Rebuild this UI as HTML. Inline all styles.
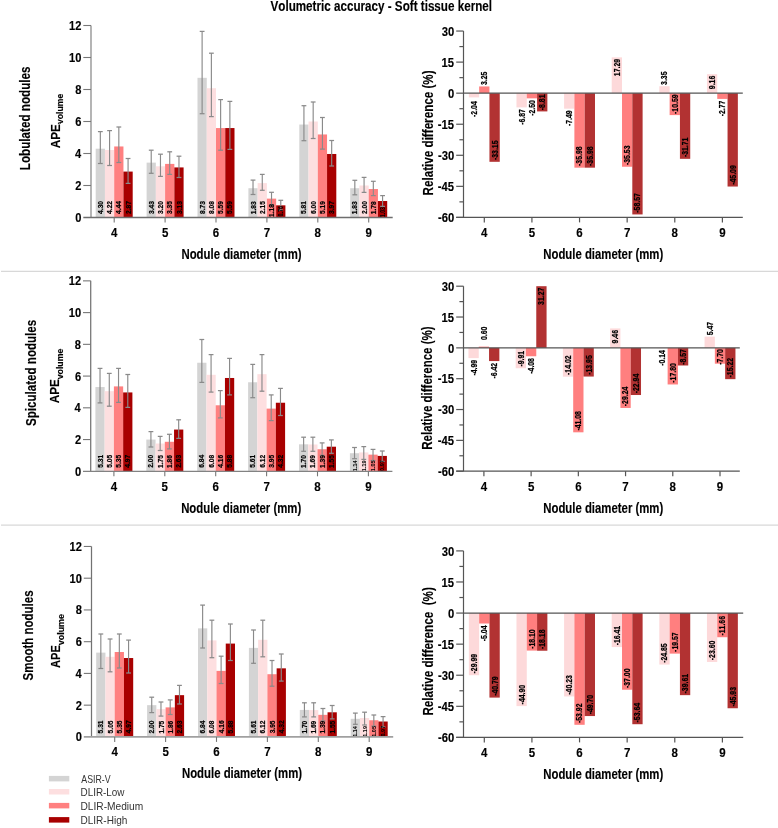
<!DOCTYPE html>
<html><head><meta charset="utf-8"><style>
html,body{margin:0;padding:0;background:#fff;}
svg{display:block;filter:blur(0.3px);}
text{font-family:"Liberation Sans",sans-serif;font-kerning:none;}
</style></head><body>
<svg width="778" height="828" viewBox="0 0 778 828">
<rect x="0" y="0" width="778" height="828" fill="#fff"/>
<text x="270.52" y="10.8" font-size="14.3" font-weight="bold" textLength="221.5" lengthAdjust="spacingAndGlyphs" fill="#000" stroke="#000" stroke-width="0.15">Volumetric accuracy - Soft tissue kernel</text>
<rect x="95.7" y="148.7" width="9.25" height="68.8" fill="#d4d4d4"/>
<rect x="104.95" y="149.98" width="9.25" height="67.52" fill="#fddfe0"/>
<rect x="114.2" y="146.46" width="9.25" height="71.04" fill="#ff8080"/>
<rect x="123.45" y="171.58" width="9.25" height="45.92" fill="#a80000"/>
<rect x="146.6" y="162.62" width="9.25" height="54.88" fill="#d4d4d4"/>
<rect x="155.85" y="166.3" width="9.25" height="51.2" fill="#fddfe0"/>
<rect x="165.1" y="163.9" width="9.25" height="53.6" fill="#ff8080"/>
<rect x="174.35" y="167.42" width="9.25" height="50.08" fill="#a80000"/>
<rect x="197.5" y="77.82" width="9.25" height="139.68" fill="#d4d4d4"/>
<rect x="206.75" y="88.22" width="9.25" height="129.28" fill="#fddfe0"/>
<rect x="216" y="128.06" width="9.25" height="89.44" fill="#ff8080"/>
<rect x="225.25" y="128.06" width="9.25" height="89.44" fill="#a80000"/>
<rect x="248.4" y="188.22" width="9.25" height="29.28" fill="#d4d4d4"/>
<rect x="257.65" y="183.1" width="9.25" height="34.4" fill="#fddfe0"/>
<rect x="266.9" y="198.62" width="9.25" height="18.88" fill="#ff8080"/>
<rect x="276.15" y="205.34" width="9.25" height="12.16" fill="#a80000"/>
<rect x="299.3" y="124.54" width="9.25" height="92.96" fill="#d4d4d4"/>
<rect x="308.55" y="121.5" width="9.25" height="96" fill="#fddfe0"/>
<rect x="317.8" y="134.46" width="9.25" height="83.04" fill="#ff8080"/>
<rect x="327.05" y="153.98" width="9.25" height="63.52" fill="#a80000"/>
<rect x="350.2" y="188.22" width="9.25" height="29.28" fill="#d4d4d4"/>
<rect x="359.45" y="185.5" width="9.25" height="32" fill="#fddfe0"/>
<rect x="368.7" y="189.02" width="9.25" height="28.48" fill="#ff8080"/>
<rect x="377.95" y="201.02" width="9.25" height="16.48" fill="#a80000"/>
<line x1="100.33" y1="131.6" x2="100.33" y2="163.5" stroke="#8a8a8a" stroke-width="1.15"/>
<line x1="97.92" y1="131.6" x2="102.73" y2="131.6" stroke="#8a8a8a" stroke-width="1.25"/>
<line x1="97.92" y1="163.5" x2="102.73" y2="163.5" stroke="#8a8a8a" stroke-width="1.25"/>
<line x1="109.58" y1="130.6" x2="109.58" y2="165.5" stroke="#8a8a8a" stroke-width="1.15"/>
<line x1="107.17" y1="130.6" x2="111.98" y2="130.6" stroke="#8a8a8a" stroke-width="1.25"/>
<line x1="107.17" y1="165.5" x2="111.98" y2="165.5" stroke="#8a8a8a" stroke-width="1.25"/>
<line x1="118.83" y1="127" x2="118.83" y2="162.5" stroke="#8a8a8a" stroke-width="1.15"/>
<line x1="116.42" y1="127" x2="121.23" y2="127" stroke="#8a8a8a" stroke-width="1.25"/>
<line x1="116.42" y1="162.5" x2="121.23" y2="162.5" stroke="#8a8a8a" stroke-width="1.25"/>
<line x1="128.07" y1="158.5" x2="128.07" y2="183.4" stroke="#8a8a8a" stroke-width="1.15"/>
<line x1="125.67" y1="158.5" x2="130.47" y2="158.5" stroke="#8a8a8a" stroke-width="1.25"/>
<line x1="125.67" y1="183.4" x2="130.47" y2="183.4" stroke="#8a8a8a" stroke-width="1.25"/>
<line x1="151.22" y1="150.2" x2="151.22" y2="173.3" stroke="#8a8a8a" stroke-width="1.15"/>
<line x1="148.82" y1="150.2" x2="153.62" y2="150.2" stroke="#8a8a8a" stroke-width="1.25"/>
<line x1="148.82" y1="173.3" x2="153.62" y2="173.3" stroke="#8a8a8a" stroke-width="1.25"/>
<line x1="160.47" y1="154.2" x2="160.47" y2="176.4" stroke="#8a8a8a" stroke-width="1.15"/>
<line x1="158.07" y1="154.2" x2="162.88" y2="154.2" stroke="#8a8a8a" stroke-width="1.25"/>
<line x1="158.07" y1="176.4" x2="162.88" y2="176.4" stroke="#8a8a8a" stroke-width="1.25"/>
<line x1="169.72" y1="151.8" x2="169.72" y2="174.4" stroke="#8a8a8a" stroke-width="1.15"/>
<line x1="167.32" y1="151.8" x2="172.12" y2="151.8" stroke="#8a8a8a" stroke-width="1.25"/>
<line x1="167.32" y1="174.4" x2="172.12" y2="174.4" stroke="#8a8a8a" stroke-width="1.25"/>
<line x1="178.97" y1="156.2" x2="178.97" y2="177.5" stroke="#8a8a8a" stroke-width="1.15"/>
<line x1="176.57" y1="156.2" x2="181.38" y2="156.2" stroke="#8a8a8a" stroke-width="1.25"/>
<line x1="176.57" y1="177.5" x2="181.38" y2="177.5" stroke="#8a8a8a" stroke-width="1.25"/>
<line x1="202.12" y1="31.4" x2="202.12" y2="113.7" stroke="#8a8a8a" stroke-width="1.15"/>
<line x1="199.72" y1="31.4" x2="204.53" y2="31.4" stroke="#8a8a8a" stroke-width="1.25"/>
<line x1="199.72" y1="113.7" x2="204.53" y2="113.7" stroke="#8a8a8a" stroke-width="1.25"/>
<line x1="211.38" y1="53.2" x2="211.38" y2="116.6" stroke="#8a8a8a" stroke-width="1.15"/>
<line x1="208.97" y1="53.2" x2="213.78" y2="53.2" stroke="#8a8a8a" stroke-width="1.25"/>
<line x1="208.97" y1="116.6" x2="213.78" y2="116.6" stroke="#8a8a8a" stroke-width="1.25"/>
<line x1="220.62" y1="99.6" x2="220.62" y2="150.2" stroke="#8a8a8a" stroke-width="1.15"/>
<line x1="218.22" y1="99.6" x2="223.03" y2="99.6" stroke="#8a8a8a" stroke-width="1.25"/>
<line x1="218.22" y1="150.2" x2="223.03" y2="150.2" stroke="#8a8a8a" stroke-width="1.25"/>
<line x1="229.88" y1="101.4" x2="229.88" y2="149.4" stroke="#8a8a8a" stroke-width="1.15"/>
<line x1="227.47" y1="101.4" x2="232.28" y2="101.4" stroke="#8a8a8a" stroke-width="1.25"/>
<line x1="227.47" y1="149.4" x2="232.28" y2="149.4" stroke="#8a8a8a" stroke-width="1.25"/>
<line x1="253.02" y1="180.1" x2="253.02" y2="194.5" stroke="#8a8a8a" stroke-width="1.15"/>
<line x1="250.62" y1="180.1" x2="255.42" y2="180.1" stroke="#8a8a8a" stroke-width="1.25"/>
<line x1="250.62" y1="194.5" x2="255.42" y2="194.5" stroke="#8a8a8a" stroke-width="1.25"/>
<line x1="262.27" y1="174.4" x2="262.27" y2="190.3" stroke="#8a8a8a" stroke-width="1.15"/>
<line x1="259.88" y1="174.4" x2="264.67" y2="174.4" stroke="#8a8a8a" stroke-width="1.25"/>
<line x1="259.88" y1="190.3" x2="264.67" y2="190.3" stroke="#8a8a8a" stroke-width="1.25"/>
<line x1="271.52" y1="192.3" x2="271.52" y2="204.9" stroke="#8a8a8a" stroke-width="1.15"/>
<line x1="269.12" y1="192.3" x2="273.92" y2="192.3" stroke="#8a8a8a" stroke-width="1.25"/>
<line x1="269.12" y1="204.9" x2="273.92" y2="204.9" stroke="#8a8a8a" stroke-width="1.25"/>
<line x1="280.77" y1="200.3" x2="280.77" y2="210.1" stroke="#8a8a8a" stroke-width="1.15"/>
<line x1="278.38" y1="200.3" x2="283.17" y2="200.3" stroke="#8a8a8a" stroke-width="1.25"/>
<line x1="278.38" y1="210.1" x2="283.17" y2="210.1" stroke="#8a8a8a" stroke-width="1.25"/>
<line x1="303.93" y1="105.7" x2="303.93" y2="140.7" stroke="#8a8a8a" stroke-width="1.15"/>
<line x1="301.53" y1="105.7" x2="306.32" y2="105.7" stroke="#8a8a8a" stroke-width="1.25"/>
<line x1="301.53" y1="140.7" x2="306.32" y2="140.7" stroke="#8a8a8a" stroke-width="1.25"/>
<line x1="313.18" y1="102" x2="313.18" y2="138.5" stroke="#8a8a8a" stroke-width="1.15"/>
<line x1="310.78" y1="102" x2="315.57" y2="102" stroke="#8a8a8a" stroke-width="1.25"/>
<line x1="310.78" y1="138.5" x2="315.57" y2="138.5" stroke="#8a8a8a" stroke-width="1.25"/>
<line x1="322.43" y1="117.5" x2="322.43" y2="149.1" stroke="#8a8a8a" stroke-width="1.15"/>
<line x1="320.03" y1="117.5" x2="324.82" y2="117.5" stroke="#8a8a8a" stroke-width="1.25"/>
<line x1="320.03" y1="149.1" x2="324.82" y2="149.1" stroke="#8a8a8a" stroke-width="1.25"/>
<line x1="331.68" y1="140.5" x2="331.68" y2="166" stroke="#8a8a8a" stroke-width="1.15"/>
<line x1="329.28" y1="140.5" x2="334.07" y2="140.5" stroke="#8a8a8a" stroke-width="1.25"/>
<line x1="329.28" y1="166" x2="334.07" y2="166" stroke="#8a8a8a" stroke-width="1.25"/>
<line x1="354.82" y1="180.3" x2="354.82" y2="194.8" stroke="#8a8a8a" stroke-width="1.15"/>
<line x1="352.43" y1="180.3" x2="357.22" y2="180.3" stroke="#8a8a8a" stroke-width="1.25"/>
<line x1="352.43" y1="194.8" x2="357.22" y2="194.8" stroke="#8a8a8a" stroke-width="1.25"/>
<line x1="364.07" y1="177.4" x2="364.07" y2="192.4" stroke="#8a8a8a" stroke-width="1.15"/>
<line x1="361.68" y1="177.4" x2="366.47" y2="177.4" stroke="#8a8a8a" stroke-width="1.25"/>
<line x1="361.68" y1="192.4" x2="366.47" y2="192.4" stroke="#8a8a8a" stroke-width="1.25"/>
<line x1="373.32" y1="181.3" x2="373.32" y2="195.6" stroke="#8a8a8a" stroke-width="1.15"/>
<line x1="370.93" y1="181.3" x2="375.72" y2="181.3" stroke="#8a8a8a" stroke-width="1.25"/>
<line x1="370.93" y1="195.6" x2="375.72" y2="195.6" stroke="#8a8a8a" stroke-width="1.25"/>
<line x1="382.57" y1="195.6" x2="382.57" y2="206.4" stroke="#8a8a8a" stroke-width="1.15"/>
<line x1="380.18" y1="195.6" x2="384.97" y2="195.6" stroke="#8a8a8a" stroke-width="1.25"/>
<line x1="380.18" y1="206.4" x2="384.97" y2="206.4" stroke="#8a8a8a" stroke-width="1.25"/>
<clipPath id="lc1"><rect x="0" y="0" width="400" height="217"/></clipPath><g clip-path="url(#lc1)">
<g transform="translate(102.88,213.9) rotate(-90)"><text x="0" y="0" font-size="7.5" font-weight="bold" textLength="12.92" lengthAdjust="spacingAndGlyphs" fill="#000" stroke="#000" stroke-width="0.22">4.30</text></g>
<g transform="translate(112.12,213.9) rotate(-90)"><text x="0" y="0" font-size="7.5" font-weight="bold" textLength="12.92" lengthAdjust="spacingAndGlyphs" fill="#000" stroke="#000" stroke-width="0.22">4.22</text></g>
<g transform="translate(121.38,213.9) rotate(-90)"><text x="0" y="0" font-size="7.5" font-weight="bold" textLength="12.92" lengthAdjust="spacingAndGlyphs" fill="#000" stroke="#000" stroke-width="0.22">4.44</text></g>
<g transform="translate(130.62,214.03) rotate(-90)"><text x="0" y="0" font-size="7.5" font-weight="bold" textLength="12.92" lengthAdjust="spacingAndGlyphs" fill="#000" stroke="#000" stroke-width="0.22">2.87</text></g>
<g transform="translate(153.78,213.95) rotate(-90)"><text x="0" y="0" font-size="7.5" font-weight="bold" textLength="12.92" lengthAdjust="spacingAndGlyphs" fill="#000" stroke="#000" stroke-width="0.22">3.43</text></g>
<g transform="translate(163.03,213.95) rotate(-90)"><text x="0" y="0" font-size="7.5" font-weight="bold" textLength="12.92" lengthAdjust="spacingAndGlyphs" fill="#000" stroke="#000" stroke-width="0.22">3.20</text></g>
<g transform="translate(172.28,213.95) rotate(-90)"><text x="0" y="0" font-size="7.5" font-weight="bold" textLength="12.92" lengthAdjust="spacingAndGlyphs" fill="#000" stroke="#000" stroke-width="0.22">3.35</text></g>
<g transform="translate(181.53,213.95) rotate(-90)"><text x="0" y="0" font-size="7.5" font-weight="bold" textLength="12.92" lengthAdjust="spacingAndGlyphs" fill="#000" stroke="#000" stroke-width="0.22">3.13</text></g>
<g transform="translate(204.68,214.01) rotate(-90)"><text x="0" y="0" font-size="7.5" font-weight="bold" textLength="12.92" lengthAdjust="spacingAndGlyphs" fill="#000" stroke="#000" stroke-width="0.22">8.73</text></g>
<g transform="translate(213.93,214.01) rotate(-90)"><text x="0" y="0" font-size="7.5" font-weight="bold" textLength="12.92" lengthAdjust="spacingAndGlyphs" fill="#000" stroke="#000" stroke-width="0.22">8.08</text></g>
<g transform="translate(223.18,214) rotate(-90)"><text x="0" y="0" font-size="7.5" font-weight="bold" textLength="12.92" lengthAdjust="spacingAndGlyphs" fill="#000" stroke="#000" stroke-width="0.22">5.59</text></g>
<g transform="translate(232.43,214) rotate(-90)"><text x="0" y="0" font-size="7.5" font-weight="bold" textLength="12.92" lengthAdjust="spacingAndGlyphs" fill="#000" stroke="#000" stroke-width="0.22">5.59</text></g>
<g transform="translate(255.57,214.22) rotate(-90)"><text x="0" y="0" font-size="7.5" font-weight="bold" textLength="12.92" lengthAdjust="spacingAndGlyphs" fill="#000" stroke="#000" stroke-width="0.22">1.83</text></g>
<g transform="translate(264.82,214.03) rotate(-90)"><text x="0" y="0" font-size="7.5" font-weight="bold" textLength="12.92" lengthAdjust="spacingAndGlyphs" fill="#000" stroke="#000" stroke-width="0.22">2.15</text></g>
<g transform="translate(274.1,217.03) rotate(-90)"><text x="0" y="0" font-size="7.5" font-weight="bold" textLength="13.13" lengthAdjust="spacingAndGlyphs" fill="#000" stroke="#000" stroke-width="0.22">1.18</text></g>
<g transform="translate(283.11,216.51) rotate(-90)"><text x="0" y="0" font-size="6.8" font-weight="bold" textLength="10.51" lengthAdjust="spacingAndGlyphs" fill="#000" stroke="#000" stroke-width="0.05">0.76</text></g>
<g transform="translate(306.48,214) rotate(-90)"><text x="0" y="0" font-size="7.5" font-weight="bold" textLength="12.92" lengthAdjust="spacingAndGlyphs" fill="#000" stroke="#000" stroke-width="0.22">5.81</text></g>
<g transform="translate(315.73,214.04) rotate(-90)"><text x="0" y="0" font-size="7.5" font-weight="bold" textLength="12.92" lengthAdjust="spacingAndGlyphs" fill="#000" stroke="#000" stroke-width="0.22">6.00</text></g>
<g transform="translate(324.98,214) rotate(-90)"><text x="0" y="0" font-size="7.5" font-weight="bold" textLength="12.92" lengthAdjust="spacingAndGlyphs" fill="#000" stroke="#000" stroke-width="0.22">5.19</text></g>
<g transform="translate(334.23,213.95) rotate(-90)"><text x="0" y="0" font-size="7.5" font-weight="bold" textLength="12.92" lengthAdjust="spacingAndGlyphs" fill="#000" stroke="#000" stroke-width="0.22">3.97</text></g>
<g transform="translate(357.38,214.22) rotate(-90)"><text x="0" y="0" font-size="7.5" font-weight="bold" textLength="12.92" lengthAdjust="spacingAndGlyphs" fill="#000" stroke="#000" stroke-width="0.22">1.83</text></g>
<g transform="translate(366.62,214.03) rotate(-90)"><text x="0" y="0" font-size="7.5" font-weight="bold" textLength="12.92" lengthAdjust="spacingAndGlyphs" fill="#000" stroke="#000" stroke-width="0.22">2.00</text></g>
<g transform="translate(375.88,214.22) rotate(-90)"><text x="0" y="0" font-size="7.5" font-weight="bold" textLength="12.92" lengthAdjust="spacingAndGlyphs" fill="#000" stroke="#000" stroke-width="0.22">1.78</text></g>
<g transform="translate(384.91,217.34) rotate(-90)"><text x="0" y="0" font-size="6.8" font-weight="bold" textLength="10.43" lengthAdjust="spacingAndGlyphs" fill="#000" stroke="#000" stroke-width="0.05">1.03</text></g>
</g>
<line x1="91" y1="25.5" x2="91" y2="217.5" stroke="#a2a2a2" stroke-width="1.6"/>
<line x1="83.3" y1="217.5" x2="392.7" y2="217.5" stroke="#6e6e6e" stroke-width="1.3"/>
<line x1="83.3" y1="185.5" x2="91" y2="185.5" stroke="#777" stroke-width="1.1"/>
<line x1="83.3" y1="153.5" x2="91" y2="153.5" stroke="#777" stroke-width="1.1"/>
<line x1="83.3" y1="121.5" x2="91" y2="121.5" stroke="#777" stroke-width="1.1"/>
<line x1="83.3" y1="89.5" x2="91" y2="89.5" stroke="#777" stroke-width="1.1"/>
<line x1="83.3" y1="57.5" x2="91" y2="57.5" stroke="#777" stroke-width="1.1"/>
<line x1="83.3" y1="25.5" x2="91" y2="25.5" stroke="#777" stroke-width="1.1"/>
<text x="75.29" y="222" font-size="12.9" font-weight="bold" textLength="6.17" lengthAdjust="spacingAndGlyphs" fill="#000" stroke="#000" stroke-width="0.15">0</text>
<text x="75.27" y="190" font-size="12.9" font-weight="bold" textLength="6.17" lengthAdjust="spacingAndGlyphs" fill="#000" stroke="#000" stroke-width="0.15">2</text>
<text x="74.89" y="158" font-size="12.9" font-weight="bold" textLength="6.17" lengthAdjust="spacingAndGlyphs" fill="#000" stroke="#000" stroke-width="0.15">4</text>
<text x="75.23" y="126" font-size="12.9" font-weight="bold" textLength="6.17" lengthAdjust="spacingAndGlyphs" fill="#000" stroke="#000" stroke-width="0.15">6</text>
<text x="75.17" y="94" font-size="12.9" font-weight="bold" textLength="6.17" lengthAdjust="spacingAndGlyphs" fill="#000" stroke="#000" stroke-width="0.15">8</text>
<text x="69.12" y="62" font-size="12.9" font-weight="bold" textLength="12.34" lengthAdjust="spacingAndGlyphs" fill="#000" stroke="#000" stroke-width="0.15">10</text>
<text x="69.1" y="30" font-size="12.9" font-weight="bold" textLength="12.34" lengthAdjust="spacingAndGlyphs" fill="#000" stroke="#000" stroke-width="0.15">12</text>
<line x1="114.2" y1="217.5" x2="114.2" y2="222.5" stroke="#777" stroke-width="1.1"/>
<text x="110.94" y="236.8" font-size="13.4" font-weight="bold" textLength="6.41" lengthAdjust="spacingAndGlyphs" fill="#000" stroke="#000" stroke-width="0.15">4</text>
<line x1="165.1" y1="217.5" x2="165.1" y2="222.5" stroke="#777" stroke-width="1.1"/>
<text x="161.88" y="236.8" font-size="13.4" font-weight="bold" textLength="6.41" lengthAdjust="spacingAndGlyphs" fill="#000" stroke="#000" stroke-width="0.15">5</text>
<line x1="216" y1="217.5" x2="216" y2="222.5" stroke="#777" stroke-width="1.1"/>
<text x="212.79" y="236.8" font-size="13.4" font-weight="bold" textLength="6.41" lengthAdjust="spacingAndGlyphs" fill="#000" stroke="#000" stroke-width="0.15">6</text>
<line x1="266.9" y1="217.5" x2="266.9" y2="222.5" stroke="#777" stroke-width="1.1"/>
<text x="263.7" y="236.8" font-size="13.4" font-weight="bold" textLength="6.41" lengthAdjust="spacingAndGlyphs" fill="#000" stroke="#000" stroke-width="0.15">7</text>
<line x1="317.8" y1="217.5" x2="317.8" y2="222.5" stroke="#777" stroke-width="1.1"/>
<text x="314.59" y="236.8" font-size="13.4" font-weight="bold" textLength="6.41" lengthAdjust="spacingAndGlyphs" fill="#000" stroke="#000" stroke-width="0.15">8</text>
<line x1="368.7" y1="217.5" x2="368.7" y2="222.5" stroke="#777" stroke-width="1.1"/>
<text x="365.51" y="236.8" font-size="13.4" font-weight="bold" textLength="6.41" lengthAdjust="spacingAndGlyphs" fill="#000" stroke="#000" stroke-width="0.15">9</text>
<text x="181.44" y="258.7" font-size="14.3" font-weight="bold" textLength="120.13" lengthAdjust="spacingAndGlyphs" fill="#000" stroke="#000" stroke-width="0.15">Nodule diameter (mm)</text>
<g transform="translate(29.7,170.18) rotate(-90)"><text x="0" y="0" font-size="14.3" font-weight="bold" textLength="103.66" lengthAdjust="spacingAndGlyphs" fill="#000" stroke="#000" stroke-width="0.15">Lobulated nodules</text></g>
<g transform="translate(59.6,148.29) rotate(-90)"><text x="0" y="0" font-size="12.4" font-weight="bold" textLength="24.05" lengthAdjust="spacingAndGlyphs" fill="#000" stroke="#000" stroke-width="0.15">APE</text></g>
<g transform="translate(63.2,123.93) rotate(-90)"><text x="0" y="0" font-size="8.5" font-weight="bold" textLength="30.13" lengthAdjust="spacingAndGlyphs" fill="#000" stroke="#000" stroke-width="0.15">volume</text></g>
<rect x="468.85" y="93.17" width="10.3" height="4.22" fill="#fdd9da"/>
<rect x="479.15" y="86.44" width="10.3" height="6.73" fill="#ff7f7f"/>
<rect x="489.45" y="93.17" width="10.3" height="68.64" fill="#b23232"/>
<rect x="516.47" y="93.17" width="10.3" height="14.22" fill="#fdd9da"/>
<rect x="526.77" y="93.17" width="10.3" height="5.18" fill="#ff7f7f"/>
<rect x="537.07" y="93.17" width="10.3" height="18.24" fill="#b23232"/>
<rect x="564.09" y="93.17" width="10.3" height="15.51" fill="#fdd9da"/>
<rect x="574.39" y="93.17" width="10.3" height="74.5" fill="#ff7f7f"/>
<rect x="584.69" y="93.17" width="10.3" height="74.5" fill="#b23232"/>
<rect x="611.71" y="57.37" width="10.3" height="35.8" fill="#fdd9da"/>
<rect x="622.01" y="93.17" width="10.3" height="73.57" fill="#ff7f7f"/>
<rect x="632.31" y="93.17" width="10.3" height="121.27" fill="#b23232"/>
<rect x="659.33" y="86.23" width="10.3" height="6.94" fill="#fdd9da"/>
<rect x="669.63" y="93.17" width="10.3" height="21.93" fill="#ff7f7f"/>
<rect x="679.93" y="93.17" width="10.3" height="65.66" fill="#b23232"/>
<rect x="706.95" y="74.2" width="10.3" height="18.97" fill="#fdd9da"/>
<rect x="717.25" y="93.17" width="10.3" height="5.74" fill="#ff7f7f"/>
<rect x="727.55" y="93.17" width="10.3" height="93.36" fill="#b23232"/>
<g transform="translate(476.9,116.97) rotate(-90)"><text x="0" y="0" font-size="8.3" font-weight="bold" textLength="15.7" lengthAdjust="spacingAndGlyphs" fill="#000" stroke="#000" stroke-width="0.22">-2.04</text></g>
<g transform="translate(487.2,85.1) rotate(-90)"><text x="0" y="0" font-size="8.3" font-weight="bold" textLength="13.41" lengthAdjust="spacingAndGlyphs" fill="#000" stroke="#000" stroke-width="0.22">3.25</text></g>
<g transform="translate(497.5,160.07) rotate(-90)"><text x="0" y="0" font-size="8.3" font-weight="bold" textLength="19.53" lengthAdjust="spacingAndGlyphs" fill="#000" stroke="#000" stroke-width="0.22">-33.15</text></g>
<g transform="translate(524.52,124.79) rotate(-90)"><text x="0" y="0" font-size="8.3" font-weight="bold" textLength="15.7" lengthAdjust="spacingAndGlyphs" fill="#000" stroke="#000" stroke-width="0.22">-6.87</text></g>
<g transform="translate(534.82,115.76) rotate(-90)"><text x="0" y="0" font-size="8.3" font-weight="bold" textLength="15.7" lengthAdjust="spacingAndGlyphs" fill="#000" stroke="#000" stroke-width="0.22">-2.50</text></g>
<g transform="translate(545.12,110.18) rotate(-90)"><text x="0" y="0" font-size="8.3" font-weight="bold" textLength="15.7" lengthAdjust="spacingAndGlyphs" fill="#000" stroke="#000" stroke-width="0.22">-8.81</text></g>
<g transform="translate(572.14,126.12) rotate(-90)"><text x="0" y="0" font-size="8.3" font-weight="bold" textLength="15.7" lengthAdjust="spacingAndGlyphs" fill="#000" stroke="#000" stroke-width="0.22">-7.49</text></g>
<g transform="translate(582.44,165.93) rotate(-90)"><text x="0" y="0" font-size="8.3" font-weight="bold" textLength="19.53" lengthAdjust="spacingAndGlyphs" fill="#000" stroke="#000" stroke-width="0.22">-35.98</text></g>
<g transform="translate(592.74,165.93) rotate(-90)"><text x="0" y="0" font-size="8.3" font-weight="bold" textLength="19.53" lengthAdjust="spacingAndGlyphs" fill="#000" stroke="#000" stroke-width="0.22">-35.98</text></g>
<g transform="translate(619.76,76.15) rotate(-90)"><text x="0" y="0" font-size="8.3" font-weight="bold" textLength="17.24" lengthAdjust="spacingAndGlyphs" fill="#000" stroke="#000" stroke-width="0.22">17.29</text></g>
<g transform="translate(630.06,165) rotate(-90)"><text x="0" y="0" font-size="8.3" font-weight="bold" textLength="19.53" lengthAdjust="spacingAndGlyphs" fill="#000" stroke="#000" stroke-width="0.22">-35.53</text></g>
<g transform="translate(640.36,212.71) rotate(-90)"><text x="0" y="0" font-size="8.3" font-weight="bold" textLength="19.53" lengthAdjust="spacingAndGlyphs" fill="#000" stroke="#000" stroke-width="0.22">-58.57</text></g>
<g transform="translate(667.38,84.89) rotate(-90)"><text x="0" y="0" font-size="8.3" font-weight="bold" textLength="13.41" lengthAdjust="spacingAndGlyphs" fill="#000" stroke="#000" stroke-width="0.22">3.35</text></g>
<g transform="translate(677.68,113.94) rotate(-90)"><text x="0" y="0" font-size="8.3" font-weight="bold" textLength="19.53" lengthAdjust="spacingAndGlyphs" fill="#000" stroke="#000" stroke-width="0.22">-10.59</text></g>
<g transform="translate(687.98,157.09) rotate(-90)"><text x="0" y="0" font-size="8.3" font-weight="bold" textLength="19.53" lengthAdjust="spacingAndGlyphs" fill="#000" stroke="#000" stroke-width="0.22">-31.71</text></g>
<g transform="translate(715,89.16) rotate(-90)"><text x="0" y="0" font-size="8.3" font-weight="bold" textLength="13.41" lengthAdjust="spacingAndGlyphs" fill="#000" stroke="#000" stroke-width="0.22">9.16</text></g>
<g transform="translate(725.3,116.3) rotate(-90)"><text x="0" y="0" font-size="8.3" font-weight="bold" textLength="15.7" lengthAdjust="spacingAndGlyphs" fill="#000" stroke="#000" stroke-width="0.22">-2.77</text></g>
<g transform="translate(735.6,184.8) rotate(-90)"><text x="0" y="0" font-size="8.3" font-weight="bold" textLength="19.53" lengthAdjust="spacingAndGlyphs" fill="#000" stroke="#000" stroke-width="0.22">-45.09</text></g>
<line x1="463.5" y1="31.05" x2="463.5" y2="217.4" stroke="#555" stroke-width="1.2"/>
<line x1="456.2" y1="217.4" x2="742.8" y2="217.4" stroke="#555" stroke-width="1.2"/>
<line x1="463.5" y1="93.17" x2="742.8" y2="93.17" stroke="#555" stroke-width="1.2"/>
<line x1="456.2" y1="31.05" x2="463.5" y2="31.05" stroke="#555" stroke-width="1.2"/>
<text x="441.74" y="35.75" font-size="13.4" font-weight="bold" textLength="12.52" lengthAdjust="spacingAndGlyphs" fill="#000" stroke="#000" stroke-width="0.15">30</text>
<line x1="459.4" y1="46.58" x2="463.5" y2="46.58" stroke="#555" stroke-width="1.2"/>
<line x1="456.2" y1="62.11" x2="463.5" y2="62.11" stroke="#555" stroke-width="1.2"/>
<text x="441.59" y="66.81" font-size="13.4" font-weight="bold" textLength="12.52" lengthAdjust="spacingAndGlyphs" fill="#000" stroke="#000" stroke-width="0.15">15</text>
<line x1="459.4" y1="77.64" x2="463.5" y2="77.64" stroke="#555" stroke-width="1.2"/>
<line x1="456.2" y1="93.17" x2="463.5" y2="93.17" stroke="#555" stroke-width="1.2"/>
<text x="448" y="97.87" font-size="13.4" font-weight="bold" textLength="6.26" lengthAdjust="spacingAndGlyphs" fill="#000" stroke="#000" stroke-width="0.15">0</text>
<line x1="459.4" y1="108.7" x2="463.5" y2="108.7" stroke="#555" stroke-width="1.2"/>
<line x1="456.2" y1="124.23" x2="463.5" y2="124.23" stroke="#555" stroke-width="1.2"/>
<text x="437.84" y="128.93" font-size="13.4" font-weight="bold" textLength="16.27" lengthAdjust="spacingAndGlyphs" fill="#000" stroke="#000" stroke-width="0.15">-15</text>
<line x1="459.4" y1="139.75" x2="463.5" y2="139.75" stroke="#555" stroke-width="1.2"/>
<line x1="456.2" y1="155.28" x2="463.5" y2="155.28" stroke="#555" stroke-width="1.2"/>
<text x="437.99" y="159.98" font-size="13.4" font-weight="bold" textLength="16.27" lengthAdjust="spacingAndGlyphs" fill="#000" stroke="#000" stroke-width="0.15">-30</text>
<line x1="459.4" y1="170.81" x2="463.5" y2="170.81" stroke="#555" stroke-width="1.2"/>
<line x1="456.2" y1="186.34" x2="463.5" y2="186.34" stroke="#555" stroke-width="1.2"/>
<text x="437.84" y="191.04" font-size="13.4" font-weight="bold" textLength="16.27" lengthAdjust="spacingAndGlyphs" fill="#000" stroke="#000" stroke-width="0.15">-45</text>
<line x1="459.4" y1="201.87" x2="463.5" y2="201.87" stroke="#555" stroke-width="1.2"/>
<line x1="456.2" y1="217.4" x2="463.5" y2="217.4" stroke="#555" stroke-width="1.2"/>
<text x="437.99" y="222.1" font-size="13.4" font-weight="bold" textLength="16.27" lengthAdjust="spacingAndGlyphs" fill="#000" stroke="#000" stroke-width="0.15">-60</text>
<line x1="484.3" y1="217.4" x2="484.3" y2="222.4" stroke="#555" stroke-width="1.2"/>
<text x="481.04" y="236.7" font-size="13.4" font-weight="bold" textLength="6.41" lengthAdjust="spacingAndGlyphs" fill="#000" stroke="#000" stroke-width="0.15">4</text>
<line x1="531.92" y1="217.4" x2="531.92" y2="222.4" stroke="#555" stroke-width="1.2"/>
<text x="528.7" y="236.7" font-size="13.4" font-weight="bold" textLength="6.41" lengthAdjust="spacingAndGlyphs" fill="#000" stroke="#000" stroke-width="0.15">5</text>
<line x1="579.54" y1="217.4" x2="579.54" y2="222.4" stroke="#555" stroke-width="1.2"/>
<text x="576.33" y="236.7" font-size="13.4" font-weight="bold" textLength="6.41" lengthAdjust="spacingAndGlyphs" fill="#000" stroke="#000" stroke-width="0.15">6</text>
<line x1="627.16" y1="217.4" x2="627.16" y2="222.4" stroke="#555" stroke-width="1.2"/>
<text x="623.96" y="236.7" font-size="13.4" font-weight="bold" textLength="6.41" lengthAdjust="spacingAndGlyphs" fill="#000" stroke="#000" stroke-width="0.15">7</text>
<line x1="674.78" y1="217.4" x2="674.78" y2="222.4" stroke="#555" stroke-width="1.2"/>
<text x="671.57" y="236.7" font-size="13.4" font-weight="bold" textLength="6.41" lengthAdjust="spacingAndGlyphs" fill="#000" stroke="#000" stroke-width="0.15">8</text>
<line x1="722.4" y1="217.4" x2="722.4" y2="222.4" stroke="#555" stroke-width="1.2"/>
<text x="719.21" y="236.7" font-size="13.4" font-weight="bold" textLength="6.41" lengthAdjust="spacingAndGlyphs" fill="#000" stroke="#000" stroke-width="0.15">9</text>
<text x="543.24" y="258.7" font-size="14.3" font-weight="bold" textLength="120.03" lengthAdjust="spacingAndGlyphs" fill="#000" stroke="#000" stroke-width="0.15">Nodule diameter (mm)</text>
<g transform="translate(433.2,195.45) rotate(-90)"><text x="0" y="0" font-size="14.3" font-weight="bold" textLength="125.06" lengthAdjust="spacingAndGlyphs" fill="#000" style="white-space:pre" stroke="#000" stroke-width="0.15">Relative difference (%)</text></g>
<rect x="95.4" y="387.03" width="9.25" height="84.27" fill="#d4d4d4"/>
<rect x="104.65" y="391.16" width="9.25" height="80.14" fill="#fddfe0"/>
<rect x="113.9" y="386.4" width="9.25" height="84.9" fill="#ff8080"/>
<rect x="123.15" y="392.43" width="9.25" height="78.87" fill="#a80000"/>
<rect x="146.3" y="439.56" width="9.25" height="31.74" fill="#d4d4d4"/>
<rect x="155.55" y="443.53" width="9.25" height="27.77" fill="#fddfe0"/>
<rect x="164.8" y="441.78" width="9.25" height="29.52" fill="#ff8080"/>
<rect x="174.05" y="429.56" width="9.25" height="41.74" fill="#a80000"/>
<rect x="197.2" y="362.75" width="9.25" height="108.55" fill="#d4d4d4"/>
<rect x="206.45" y="374.81" width="9.25" height="96.49" fill="#fddfe0"/>
<rect x="215.7" y="405.28" width="9.25" height="66.02" fill="#ff8080"/>
<rect x="224.95" y="377.98" width="9.25" height="93.32" fill="#a80000"/>
<rect x="248.1" y="382.27" width="9.25" height="89.03" fill="#d4d4d4"/>
<rect x="257.35" y="374.18" width="9.25" height="97.12" fill="#fddfe0"/>
<rect x="266.6" y="408.61" width="9.25" height="62.69" fill="#ff8080"/>
<rect x="275.85" y="402.74" width="9.25" height="68.56" fill="#a80000"/>
<rect x="299" y="444.32" width="9.25" height="26.98" fill="#d4d4d4"/>
<rect x="308.25" y="444.48" width="9.25" height="26.82" fill="#fddfe0"/>
<rect x="317.5" y="449.24" width="9.25" height="22.06" fill="#ff8080"/>
<rect x="326.75" y="446.7" width="9.25" height="24.6" fill="#a80000"/>
<rect x="349.9" y="453.21" width="9.25" height="18.09" fill="#d4d4d4"/>
<rect x="359.15" y="452.41" width="9.25" height="18.89" fill="#fddfe0"/>
<rect x="368.4" y="454.64" width="9.25" height="16.66" fill="#ff8080"/>
<rect x="377.65" y="455.91" width="9.25" height="15.39" fill="#a80000"/>
<line x1="100.03" y1="368.4" x2="100.03" y2="402.9" stroke="#8a8a8a" stroke-width="1.15"/>
<line x1="97.62" y1="368.4" x2="102.43" y2="368.4" stroke="#8a8a8a" stroke-width="1.25"/>
<line x1="97.62" y1="402.9" x2="102.43" y2="402.9" stroke="#8a8a8a" stroke-width="1.25"/>
<line x1="109.28" y1="373.4" x2="109.28" y2="406.2" stroke="#8a8a8a" stroke-width="1.15"/>
<line x1="106.88" y1="373.4" x2="111.68" y2="373.4" stroke="#8a8a8a" stroke-width="1.25"/>
<line x1="106.88" y1="406.2" x2="111.68" y2="406.2" stroke="#8a8a8a" stroke-width="1.25"/>
<line x1="118.53" y1="368.4" x2="118.53" y2="402.4" stroke="#8a8a8a" stroke-width="1.15"/>
<line x1="116.12" y1="368.4" x2="120.93" y2="368.4" stroke="#8a8a8a" stroke-width="1.25"/>
<line x1="116.12" y1="402.4" x2="120.93" y2="402.4" stroke="#8a8a8a" stroke-width="1.25"/>
<line x1="127.78" y1="374.5" x2="127.78" y2="407.4" stroke="#8a8a8a" stroke-width="1.15"/>
<line x1="125.38" y1="374.5" x2="130.18" y2="374.5" stroke="#8a8a8a" stroke-width="1.25"/>
<line x1="125.38" y1="407.4" x2="130.18" y2="407.4" stroke="#8a8a8a" stroke-width="1.25"/>
<line x1="150.92" y1="431.6" x2="150.92" y2="447" stroke="#8a8a8a" stroke-width="1.15"/>
<line x1="148.52" y1="431.6" x2="153.32" y2="431.6" stroke="#8a8a8a" stroke-width="1.25"/>
<line x1="148.52" y1="447" x2="153.32" y2="447" stroke="#8a8a8a" stroke-width="1.25"/>
<line x1="160.17" y1="436.4" x2="160.17" y2="450.5" stroke="#8a8a8a" stroke-width="1.15"/>
<line x1="157.77" y1="436.4" x2="162.57" y2="436.4" stroke="#8a8a8a" stroke-width="1.25"/>
<line x1="157.77" y1="450.5" x2="162.57" y2="450.5" stroke="#8a8a8a" stroke-width="1.25"/>
<line x1="169.42" y1="434.3" x2="169.42" y2="448.9" stroke="#8a8a8a" stroke-width="1.15"/>
<line x1="167.02" y1="434.3" x2="171.82" y2="434.3" stroke="#8a8a8a" stroke-width="1.25"/>
<line x1="167.02" y1="448.9" x2="171.82" y2="448.9" stroke="#8a8a8a" stroke-width="1.25"/>
<line x1="178.67" y1="419.8" x2="178.67" y2="438.4" stroke="#8a8a8a" stroke-width="1.15"/>
<line x1="176.27" y1="419.8" x2="181.07" y2="419.8" stroke="#8a8a8a" stroke-width="1.25"/>
<line x1="176.27" y1="438.4" x2="181.07" y2="438.4" stroke="#8a8a8a" stroke-width="1.25"/>
<line x1="201.82" y1="339.5" x2="201.82" y2="382.4" stroke="#8a8a8a" stroke-width="1.15"/>
<line x1="199.42" y1="339.5" x2="204.22" y2="339.5" stroke="#8a8a8a" stroke-width="1.25"/>
<line x1="199.42" y1="382.4" x2="204.22" y2="382.4" stroke="#8a8a8a" stroke-width="1.25"/>
<line x1="211.07" y1="354.6" x2="211.07" y2="392.1" stroke="#8a8a8a" stroke-width="1.15"/>
<line x1="208.67" y1="354.6" x2="213.47" y2="354.6" stroke="#8a8a8a" stroke-width="1.25"/>
<line x1="208.67" y1="392.1" x2="213.47" y2="392.1" stroke="#8a8a8a" stroke-width="1.25"/>
<line x1="220.32" y1="390.6" x2="220.32" y2="417.9" stroke="#8a8a8a" stroke-width="1.15"/>
<line x1="217.92" y1="390.6" x2="222.72" y2="390.6" stroke="#8a8a8a" stroke-width="1.25"/>
<line x1="217.92" y1="417.9" x2="222.72" y2="417.9" stroke="#8a8a8a" stroke-width="1.25"/>
<line x1="229.57" y1="358.4" x2="229.57" y2="394.9" stroke="#8a8a8a" stroke-width="1.15"/>
<line x1="227.17" y1="358.4" x2="231.97" y2="358.4" stroke="#8a8a8a" stroke-width="1.25"/>
<line x1="227.17" y1="394.9" x2="231.97" y2="394.9" stroke="#8a8a8a" stroke-width="1.25"/>
<line x1="252.72" y1="364.4" x2="252.72" y2="397.7" stroke="#8a8a8a" stroke-width="1.15"/>
<line x1="250.32" y1="364.4" x2="255.12" y2="364.4" stroke="#8a8a8a" stroke-width="1.25"/>
<line x1="250.32" y1="397.7" x2="255.12" y2="397.7" stroke="#8a8a8a" stroke-width="1.25"/>
<line x1="261.97" y1="354.6" x2="261.97" y2="391.2" stroke="#8a8a8a" stroke-width="1.15"/>
<line x1="259.57" y1="354.6" x2="264.37" y2="354.6" stroke="#8a8a8a" stroke-width="1.25"/>
<line x1="259.57" y1="391.2" x2="264.37" y2="391.2" stroke="#8a8a8a" stroke-width="1.25"/>
<line x1="271.22" y1="394.9" x2="271.22" y2="420.6" stroke="#8a8a8a" stroke-width="1.15"/>
<line x1="268.82" y1="394.9" x2="273.62" y2="394.9" stroke="#8a8a8a" stroke-width="1.25"/>
<line x1="268.82" y1="420.6" x2="273.62" y2="420.6" stroke="#8a8a8a" stroke-width="1.25"/>
<line x1="280.47" y1="388.4" x2="280.47" y2="415.5" stroke="#8a8a8a" stroke-width="1.15"/>
<line x1="278.07" y1="388.4" x2="282.87" y2="388.4" stroke="#8a8a8a" stroke-width="1.25"/>
<line x1="278.07" y1="415.5" x2="282.87" y2="415.5" stroke="#8a8a8a" stroke-width="1.25"/>
<line x1="303.62" y1="437.2" x2="303.62" y2="451.3" stroke="#8a8a8a" stroke-width="1.15"/>
<line x1="301.23" y1="437.2" x2="306.02" y2="437.2" stroke="#8a8a8a" stroke-width="1.25"/>
<line x1="301.23" y1="451.3" x2="306.02" y2="451.3" stroke="#8a8a8a" stroke-width="1.25"/>
<line x1="312.88" y1="437.2" x2="312.88" y2="451.3" stroke="#8a8a8a" stroke-width="1.15"/>
<line x1="310.48" y1="437.2" x2="315.27" y2="437.2" stroke="#8a8a8a" stroke-width="1.25"/>
<line x1="310.48" y1="451.3" x2="315.27" y2="451.3" stroke="#8a8a8a" stroke-width="1.25"/>
<line x1="322.12" y1="442.9" x2="322.12" y2="455.3" stroke="#8a8a8a" stroke-width="1.15"/>
<line x1="319.73" y1="442.9" x2="324.52" y2="442.9" stroke="#8a8a8a" stroke-width="1.25"/>
<line x1="319.73" y1="455.3" x2="324.52" y2="455.3" stroke="#8a8a8a" stroke-width="1.25"/>
<line x1="331.38" y1="439.9" x2="331.38" y2="453.3" stroke="#8a8a8a" stroke-width="1.15"/>
<line x1="328.98" y1="439.9" x2="333.77" y2="439.9" stroke="#8a8a8a" stroke-width="1.25"/>
<line x1="328.98" y1="453.3" x2="333.77" y2="453.3" stroke="#8a8a8a" stroke-width="1.25"/>
<line x1="354.52" y1="447.5" x2="354.52" y2="458.7" stroke="#8a8a8a" stroke-width="1.15"/>
<line x1="352.12" y1="447.5" x2="356.92" y2="447.5" stroke="#8a8a8a" stroke-width="1.25"/>
<line x1="352.12" y1="458.7" x2="356.92" y2="458.7" stroke="#8a8a8a" stroke-width="1.25"/>
<line x1="363.77" y1="446.6" x2="363.77" y2="459.4" stroke="#8a8a8a" stroke-width="1.15"/>
<line x1="361.38" y1="446.6" x2="366.17" y2="446.6" stroke="#8a8a8a" stroke-width="1.25"/>
<line x1="361.38" y1="459.4" x2="366.17" y2="459.4" stroke="#8a8a8a" stroke-width="1.25"/>
<line x1="373.02" y1="449.4" x2="373.02" y2="460.5" stroke="#8a8a8a" stroke-width="1.15"/>
<line x1="370.62" y1="449.4" x2="375.42" y2="449.4" stroke="#8a8a8a" stroke-width="1.25"/>
<line x1="370.62" y1="460.5" x2="375.42" y2="460.5" stroke="#8a8a8a" stroke-width="1.25"/>
<line x1="382.27" y1="451" x2="382.27" y2="461.4" stroke="#8a8a8a" stroke-width="1.15"/>
<line x1="379.88" y1="451" x2="384.67" y2="451" stroke="#8a8a8a" stroke-width="1.25"/>
<line x1="379.88" y1="461.4" x2="384.67" y2="461.4" stroke="#8a8a8a" stroke-width="1.25"/>
<clipPath id="lc2"><rect x="0" y="0" width="400" height="470.8"/></clipPath><g clip-path="url(#lc2)">
<g transform="translate(102.58,467.8) rotate(-90)"><text x="0" y="0" font-size="7.5" font-weight="bold" textLength="12.92" lengthAdjust="spacingAndGlyphs" fill="#000" stroke="#000" stroke-width="0.22">5.31</text></g>
<g transform="translate(111.83,467.8) rotate(-90)"><text x="0" y="0" font-size="7.5" font-weight="bold" textLength="12.92" lengthAdjust="spacingAndGlyphs" fill="#000" stroke="#000" stroke-width="0.22">5.05</text></g>
<g transform="translate(121.08,467.8) rotate(-90)"><text x="0" y="0" font-size="7.5" font-weight="bold" textLength="12.92" lengthAdjust="spacingAndGlyphs" fill="#000" stroke="#000" stroke-width="0.22">5.35</text></g>
<g transform="translate(130.33,467.7) rotate(-90)"><text x="0" y="0" font-size="7.5" font-weight="bold" textLength="12.92" lengthAdjust="spacingAndGlyphs" fill="#000" stroke="#000" stroke-width="0.22">4.97</text></g>
<g transform="translate(153.47,467.83) rotate(-90)"><text x="0" y="0" font-size="7.5" font-weight="bold" textLength="12.92" lengthAdjust="spacingAndGlyphs" fill="#000" stroke="#000" stroke-width="0.22">2.00</text></g>
<g transform="translate(162.72,468.02) rotate(-90)"><text x="0" y="0" font-size="7.5" font-weight="bold" textLength="12.92" lengthAdjust="spacingAndGlyphs" fill="#000" stroke="#000" stroke-width="0.22">1.75</text></g>
<g transform="translate(171.97,468.02) rotate(-90)"><text x="0" y="0" font-size="7.5" font-weight="bold" textLength="12.92" lengthAdjust="spacingAndGlyphs" fill="#000" stroke="#000" stroke-width="0.22">1.86</text></g>
<g transform="translate(181.22,467.83) rotate(-90)"><text x="0" y="0" font-size="7.5" font-weight="bold" textLength="12.92" lengthAdjust="spacingAndGlyphs" fill="#000" stroke="#000" stroke-width="0.22">2.63</text></g>
<g transform="translate(204.38,467.84) rotate(-90)"><text x="0" y="0" font-size="7.5" font-weight="bold" textLength="12.92" lengthAdjust="spacingAndGlyphs" fill="#000" stroke="#000" stroke-width="0.22">6.84</text></g>
<g transform="translate(213.62,467.84) rotate(-90)"><text x="0" y="0" font-size="7.5" font-weight="bold" textLength="12.92" lengthAdjust="spacingAndGlyphs" fill="#000" stroke="#000" stroke-width="0.22">6.08</text></g>
<g transform="translate(222.88,467.7) rotate(-90)"><text x="0" y="0" font-size="7.5" font-weight="bold" textLength="12.92" lengthAdjust="spacingAndGlyphs" fill="#000" stroke="#000" stroke-width="0.22">4.16</text></g>
<g transform="translate(232.12,467.8) rotate(-90)"><text x="0" y="0" font-size="7.5" font-weight="bold" textLength="12.92" lengthAdjust="spacingAndGlyphs" fill="#000" stroke="#000" stroke-width="0.22">5.88</text></g>
<g transform="translate(255.27,467.8) rotate(-90)"><text x="0" y="0" font-size="7.5" font-weight="bold" textLength="12.92" lengthAdjust="spacingAndGlyphs" fill="#000" stroke="#000" stroke-width="0.22">5.61</text></g>
<g transform="translate(264.52,467.84) rotate(-90)"><text x="0" y="0" font-size="7.5" font-weight="bold" textLength="12.92" lengthAdjust="spacingAndGlyphs" fill="#000" stroke="#000" stroke-width="0.22">6.12</text></g>
<g transform="translate(273.77,467.75) rotate(-90)"><text x="0" y="0" font-size="7.5" font-weight="bold" textLength="12.92" lengthAdjust="spacingAndGlyphs" fill="#000" stroke="#000" stroke-width="0.22">3.95</text></g>
<g transform="translate(283.02,467.7) rotate(-90)"><text x="0" y="0" font-size="7.5" font-weight="bold" textLength="12.92" lengthAdjust="spacingAndGlyphs" fill="#000" stroke="#000" stroke-width="0.22">4.32</text></g>
<g transform="translate(306.18,468.02) rotate(-90)"><text x="0" y="0" font-size="7.5" font-weight="bold" textLength="12.92" lengthAdjust="spacingAndGlyphs" fill="#000" stroke="#000" stroke-width="0.22">1.70</text></g>
<g transform="translate(315.43,468.02) rotate(-90)"><text x="0" y="0" font-size="7.5" font-weight="bold" textLength="12.92" lengthAdjust="spacingAndGlyphs" fill="#000" stroke="#000" stroke-width="0.22">1.69</text></g>
<g transform="translate(324.68,468.02) rotate(-90)"><text x="0" y="0" font-size="7.5" font-weight="bold" textLength="12.92" lengthAdjust="spacingAndGlyphs" fill="#000" stroke="#000" stroke-width="0.22">1.39</text></g>
<g transform="translate(333.93,468.02) rotate(-90)"><text x="0" y="0" font-size="7.5" font-weight="bold" textLength="12.92" lengthAdjust="spacingAndGlyphs" fill="#000" stroke="#000" stroke-width="0.22">1.55</text></g>
<g transform="translate(356.59,471.14) rotate(-90)"><text x="0" y="0" font-size="6" font-weight="bold" textLength="10.57" lengthAdjust="spacingAndGlyphs" fill="#000" stroke="#000" stroke-width="0.05">1.14</text></g>
<g transform="translate(365.84,471.15) rotate(-90)"><text x="0" y="0" font-size="6" font-weight="bold" textLength="10.75" lengthAdjust="spacingAndGlyphs" fill="#000" stroke="#000" stroke-width="0.05">1.19</text></g>
<g transform="translate(375.09,471.15) rotate(-90)"><text x="0" y="0" font-size="6" font-weight="bold" textLength="10.7" lengthAdjust="spacingAndGlyphs" fill="#000" stroke="#000" stroke-width="0.05">1.05</text></g>
<g transform="translate(384.34,470.92) rotate(-90)"><text x="0" y="0" font-size="6" font-weight="bold" textLength="10.76" lengthAdjust="spacingAndGlyphs" fill="#000" stroke="#000" stroke-width="0.05">0.97</text></g>
</g>
<line x1="90.7" y1="280.86" x2="90.7" y2="471.3" stroke="#787878" stroke-width="1.3"/>
<line x1="83" y1="471.3" x2="392.4" y2="471.3" stroke="#828282" stroke-width="1.3"/>
<line x1="83" y1="439.56" x2="90.7" y2="439.56" stroke="#777" stroke-width="1.1"/>
<line x1="83" y1="407.82" x2="90.7" y2="407.82" stroke="#777" stroke-width="1.1"/>
<line x1="83" y1="376.08" x2="90.7" y2="376.08" stroke="#777" stroke-width="1.1"/>
<line x1="83" y1="344.34" x2="90.7" y2="344.34" stroke="#777" stroke-width="1.1"/>
<line x1="83" y1="312.6" x2="90.7" y2="312.6" stroke="#777" stroke-width="1.1"/>
<line x1="83" y1="280.86" x2="90.7" y2="280.86" stroke="#777" stroke-width="1.1"/>
<text x="74.99" y="475.8" font-size="12.9" font-weight="bold" textLength="6.17" lengthAdjust="spacingAndGlyphs" fill="#000" stroke="#000" stroke-width="0.15">0</text>
<text x="74.97" y="444.06" font-size="12.9" font-weight="bold" textLength="6.17" lengthAdjust="spacingAndGlyphs" fill="#000" stroke="#000" stroke-width="0.15">2</text>
<text x="74.59" y="412.32" font-size="12.9" font-weight="bold" textLength="6.17" lengthAdjust="spacingAndGlyphs" fill="#000" stroke="#000" stroke-width="0.15">4</text>
<text x="74.93" y="380.58" font-size="12.9" font-weight="bold" textLength="6.17" lengthAdjust="spacingAndGlyphs" fill="#000" stroke="#000" stroke-width="0.15">6</text>
<text x="74.87" y="348.84" font-size="12.9" font-weight="bold" textLength="6.17" lengthAdjust="spacingAndGlyphs" fill="#000" stroke="#000" stroke-width="0.15">8</text>
<text x="68.82" y="317.1" font-size="12.9" font-weight="bold" textLength="12.34" lengthAdjust="spacingAndGlyphs" fill="#000" stroke="#000" stroke-width="0.15">10</text>
<text x="68.8" y="285.36" font-size="12.9" font-weight="bold" textLength="12.34" lengthAdjust="spacingAndGlyphs" fill="#000" stroke="#000" stroke-width="0.15">12</text>
<line x1="113.9" y1="471.3" x2="113.9" y2="476.3" stroke="#777" stroke-width="1.1"/>
<text x="110.64" y="490.6" font-size="13.4" font-weight="bold" textLength="6.41" lengthAdjust="spacingAndGlyphs" fill="#000" stroke="#000" stroke-width="0.15">4</text>
<line x1="164.8" y1="471.3" x2="164.8" y2="476.3" stroke="#777" stroke-width="1.1"/>
<text x="161.58" y="490.6" font-size="13.4" font-weight="bold" textLength="6.41" lengthAdjust="spacingAndGlyphs" fill="#000" stroke="#000" stroke-width="0.15">5</text>
<line x1="215.7" y1="471.3" x2="215.7" y2="476.3" stroke="#777" stroke-width="1.1"/>
<text x="212.49" y="490.6" font-size="13.4" font-weight="bold" textLength="6.41" lengthAdjust="spacingAndGlyphs" fill="#000" stroke="#000" stroke-width="0.15">6</text>
<line x1="266.6" y1="471.3" x2="266.6" y2="476.3" stroke="#777" stroke-width="1.1"/>
<text x="263.4" y="490.6" font-size="13.4" font-weight="bold" textLength="6.41" lengthAdjust="spacingAndGlyphs" fill="#000" stroke="#000" stroke-width="0.15">7</text>
<line x1="317.5" y1="471.3" x2="317.5" y2="476.3" stroke="#777" stroke-width="1.1"/>
<text x="314.29" y="490.6" font-size="13.4" font-weight="bold" textLength="6.41" lengthAdjust="spacingAndGlyphs" fill="#000" stroke="#000" stroke-width="0.15">8</text>
<line x1="368.4" y1="471.3" x2="368.4" y2="476.3" stroke="#777" stroke-width="1.1"/>
<text x="365.21" y="490.6" font-size="13.4" font-weight="bold" textLength="6.41" lengthAdjust="spacingAndGlyphs" fill="#000" stroke="#000" stroke-width="0.15">9</text>
<text x="181.14" y="512.5" font-size="14.3" font-weight="bold" textLength="120.13" lengthAdjust="spacingAndGlyphs" fill="#000" stroke="#000" stroke-width="0.15">Nodule diameter (mm)</text>
<g transform="translate(35.6,425.93) rotate(-90)"><text x="0" y="0" font-size="14.3" font-weight="bold" textLength="106.11" lengthAdjust="spacingAndGlyphs" fill="#000" stroke="#000" stroke-width="0.15">Spiculated nodules</text></g>
<g transform="translate(58.6,403.29) rotate(-90)"><text x="0" y="0" font-size="12.4" font-weight="bold" textLength="24.05" lengthAdjust="spacingAndGlyphs" fill="#000" stroke="#000" stroke-width="0.15">APE</text></g>
<g transform="translate(62.7,379.33) rotate(-90)"><text x="0" y="0" font-size="8.5" font-weight="bold" textLength="30.73" lengthAdjust="spacingAndGlyphs" fill="#000" stroke="#000" stroke-width="0.15">volume</text></g>
<rect x="468.45" y="347.87" width="10.3" height="10.26" fill="#fdd9da"/>
<rect x="478.75" y="346.63" width="10.3" height="1.23" fill="#ff7f7f"/>
<rect x="489.05" y="347.87" width="10.3" height="13.2" fill="#b23232"/>
<rect x="515.67" y="347.87" width="10.3" height="20.37" fill="#fdd9da"/>
<rect x="525.97" y="347.87" width="10.3" height="8.39" fill="#ff7f7f"/>
<rect x="536.27" y="286.2" width="10.3" height="61.67" fill="#b23232"/>
<rect x="562.89" y="347.87" width="10.3" height="28.82" fill="#fdd9da"/>
<rect x="573.19" y="347.87" width="10.3" height="84.44" fill="#ff7f7f"/>
<rect x="583.49" y="347.87" width="10.3" height="28.68" fill="#b23232"/>
<rect x="610.11" y="328.42" width="10.3" height="19.45" fill="#fdd9da"/>
<rect x="620.41" y="347.87" width="10.3" height="60.1" fill="#ff7f7f"/>
<rect x="630.71" y="347.87" width="10.3" height="47.15" fill="#b23232"/>
<rect x="657.33" y="347.87" width="10.3" height="0.29" fill="#fdd9da"/>
<rect x="667.63" y="347.87" width="10.3" height="36.59" fill="#ff7f7f"/>
<rect x="677.93" y="347.87" width="10.3" height="17.62" fill="#b23232"/>
<rect x="704.55" y="336.62" width="10.3" height="11.24" fill="#fdd9da"/>
<rect x="714.85" y="347.87" width="10.3" height="15.83" fill="#ff7f7f"/>
<rect x="725.15" y="347.87" width="10.3" height="31.29" fill="#b23232"/>
<g transform="translate(476.5,375.57) rotate(-90)"><text x="0" y="0" font-size="8.3" font-weight="bold" textLength="15.7" lengthAdjust="spacingAndGlyphs" fill="#000" stroke="#000" stroke-width="0.22">-4.99</text></g>
<g transform="translate(486.8,340.07) rotate(-90)"><text x="0" y="0" font-size="8.3" font-weight="bold" textLength="13.41" lengthAdjust="spacingAndGlyphs" fill="#000" stroke="#000" stroke-width="0.22">0.60</text></g>
<g transform="translate(497.1,378.49) rotate(-90)"><text x="0" y="0" font-size="8.3" font-weight="bold" textLength="15.7" lengthAdjust="spacingAndGlyphs" fill="#000" stroke="#000" stroke-width="0.22">-6.42</text></g>
<g transform="translate(523.72,366.51) rotate(-90)"><text x="0" y="0" font-size="8.3" font-weight="bold" textLength="15.7" lengthAdjust="spacingAndGlyphs" fill="#000" stroke="#000" stroke-width="0.22">-9.91</text></g>
<g transform="translate(534.02,373.74) rotate(-90)"><text x="0" y="0" font-size="8.3" font-weight="bold" textLength="15.7" lengthAdjust="spacingAndGlyphs" fill="#000" stroke="#000" stroke-width="0.22">-4.08</text></g>
<g transform="translate(544.32,304.94) rotate(-90)"><text x="0" y="0" font-size="8.3" font-weight="bold" textLength="17.24" lengthAdjust="spacingAndGlyphs" fill="#000" stroke="#000" stroke-width="0.22">31.27</text></g>
<g transform="translate(570.94,374.95) rotate(-90)"><text x="0" y="0" font-size="8.3" font-weight="bold" textLength="19.53" lengthAdjust="spacingAndGlyphs" fill="#000" stroke="#000" stroke-width="0.22">-14.02</text></g>
<g transform="translate(581.24,430.58) rotate(-90)"><text x="0" y="0" font-size="8.3" font-weight="bold" textLength="19.53" lengthAdjust="spacingAndGlyphs" fill="#000" stroke="#000" stroke-width="0.22">-41.08</text></g>
<g transform="translate(591.54,374.81) rotate(-90)"><text x="0" y="0" font-size="8.3" font-weight="bold" textLength="19.53" lengthAdjust="spacingAndGlyphs" fill="#000" stroke="#000" stroke-width="0.22">-13.95</text></g>
<g transform="translate(618.16,343.38) rotate(-90)"><text x="0" y="0" font-size="8.3" font-weight="bold" textLength="13.41" lengthAdjust="spacingAndGlyphs" fill="#000" stroke="#000" stroke-width="0.22">9.46</text></g>
<g transform="translate(628.46,406.24) rotate(-90)"><text x="0" y="0" font-size="8.3" font-weight="bold" textLength="19.53" lengthAdjust="spacingAndGlyphs" fill="#000" stroke="#000" stroke-width="0.22">-29.24</text></g>
<g transform="translate(638.76,393.29) rotate(-90)"><text x="0" y="0" font-size="8.3" font-weight="bold" textLength="19.53" lengthAdjust="spacingAndGlyphs" fill="#000" stroke="#000" stroke-width="0.22">-22.94</text></g>
<g transform="translate(665.38,365.82) rotate(-90)"><text x="0" y="0" font-size="8.3" font-weight="bold" textLength="15.7" lengthAdjust="spacingAndGlyphs" fill="#000" stroke="#000" stroke-width="0.22">-0.14</text></g>
<g transform="translate(675.68,382.72) rotate(-90)"><text x="0" y="0" font-size="8.3" font-weight="bold" textLength="19.53" lengthAdjust="spacingAndGlyphs" fill="#000" stroke="#000" stroke-width="0.22">-17.80</text></g>
<g transform="translate(685.98,364.77) rotate(-90)"><text x="0" y="0" font-size="8.3" font-weight="bold" textLength="15.7" lengthAdjust="spacingAndGlyphs" fill="#000" stroke="#000" stroke-width="0.22">-8.57</text></g>
<g transform="translate(712.6,335.33) rotate(-90)"><text x="0" y="0" font-size="8.3" font-weight="bold" textLength="13.41" lengthAdjust="spacingAndGlyphs" fill="#000" stroke="#000" stroke-width="0.22">5.47</text></g>
<g transform="translate(722.9,364.79) rotate(-90)"><text x="0" y="0" font-size="8.3" font-weight="bold" textLength="15.7" lengthAdjust="spacingAndGlyphs" fill="#000" stroke="#000" stroke-width="0.22">-7.70</text></g>
<g transform="translate(733.2,377.42) rotate(-90)"><text x="0" y="0" font-size="8.3" font-weight="bold" textLength="19.53" lengthAdjust="spacingAndGlyphs" fill="#000" stroke="#000" stroke-width="0.22">-15.22</text></g>
<line x1="463.5" y1="286.2" x2="463.5" y2="471.2" stroke="#555" stroke-width="1.2"/>
<line x1="456.2" y1="471.2" x2="739.8" y2="471.2" stroke="#555" stroke-width="1.2"/>
<line x1="463.5" y1="347.87" x2="739.8" y2="347.87" stroke="#555" stroke-width="1.2"/>
<line x1="456.2" y1="286.2" x2="463.5" y2="286.2" stroke="#555" stroke-width="1.2"/>
<text x="441.74" y="290.9" font-size="13.4" font-weight="bold" textLength="12.52" lengthAdjust="spacingAndGlyphs" fill="#000" stroke="#000" stroke-width="0.15">30</text>
<line x1="459.4" y1="301.62" x2="463.5" y2="301.62" stroke="#555" stroke-width="1.2"/>
<line x1="456.2" y1="317.03" x2="463.5" y2="317.03" stroke="#555" stroke-width="1.2"/>
<text x="441.59" y="321.73" font-size="13.4" font-weight="bold" textLength="12.52" lengthAdjust="spacingAndGlyphs" fill="#000" stroke="#000" stroke-width="0.15">15</text>
<line x1="459.4" y1="332.45" x2="463.5" y2="332.45" stroke="#555" stroke-width="1.2"/>
<line x1="456.2" y1="347.87" x2="463.5" y2="347.87" stroke="#555" stroke-width="1.2"/>
<text x="448" y="352.57" font-size="13.4" font-weight="bold" textLength="6.26" lengthAdjust="spacingAndGlyphs" fill="#000" stroke="#000" stroke-width="0.15">0</text>
<line x1="459.4" y1="363.28" x2="463.5" y2="363.28" stroke="#555" stroke-width="1.2"/>
<line x1="456.2" y1="378.7" x2="463.5" y2="378.7" stroke="#555" stroke-width="1.2"/>
<text x="437.84" y="383.4" font-size="13.4" font-weight="bold" textLength="16.27" lengthAdjust="spacingAndGlyphs" fill="#000" stroke="#000" stroke-width="0.15">-15</text>
<line x1="459.4" y1="394.12" x2="463.5" y2="394.12" stroke="#555" stroke-width="1.2"/>
<line x1="456.2" y1="409.53" x2="463.5" y2="409.53" stroke="#555" stroke-width="1.2"/>
<text x="437.99" y="414.23" font-size="13.4" font-weight="bold" textLength="16.27" lengthAdjust="spacingAndGlyphs" fill="#000" stroke="#000" stroke-width="0.15">-30</text>
<line x1="459.4" y1="424.95" x2="463.5" y2="424.95" stroke="#555" stroke-width="1.2"/>
<line x1="456.2" y1="440.37" x2="463.5" y2="440.37" stroke="#555" stroke-width="1.2"/>
<text x="437.84" y="445.07" font-size="13.4" font-weight="bold" textLength="16.27" lengthAdjust="spacingAndGlyphs" fill="#000" stroke="#000" stroke-width="0.15">-45</text>
<line x1="459.4" y1="455.78" x2="463.5" y2="455.78" stroke="#555" stroke-width="1.2"/>
<line x1="456.2" y1="471.2" x2="463.5" y2="471.2" stroke="#555" stroke-width="1.2"/>
<text x="437.99" y="475.9" font-size="13.4" font-weight="bold" textLength="16.27" lengthAdjust="spacingAndGlyphs" fill="#000" stroke="#000" stroke-width="0.15">-60</text>
<line x1="483.9" y1="471.2" x2="483.9" y2="476.2" stroke="#555" stroke-width="1.2"/>
<text x="480.64" y="490.5" font-size="13.4" font-weight="bold" textLength="6.41" lengthAdjust="spacingAndGlyphs" fill="#000" stroke="#000" stroke-width="0.15">4</text>
<line x1="531.12" y1="471.2" x2="531.12" y2="476.2" stroke="#555" stroke-width="1.2"/>
<text x="527.9" y="490.5" font-size="13.4" font-weight="bold" textLength="6.41" lengthAdjust="spacingAndGlyphs" fill="#000" stroke="#000" stroke-width="0.15">5</text>
<line x1="578.34" y1="471.2" x2="578.34" y2="476.2" stroke="#555" stroke-width="1.2"/>
<text x="575.13" y="490.5" font-size="13.4" font-weight="bold" textLength="6.41" lengthAdjust="spacingAndGlyphs" fill="#000" stroke="#000" stroke-width="0.15">6</text>
<line x1="625.56" y1="471.2" x2="625.56" y2="476.2" stroke="#555" stroke-width="1.2"/>
<text x="622.36" y="490.5" font-size="13.4" font-weight="bold" textLength="6.41" lengthAdjust="spacingAndGlyphs" fill="#000" stroke="#000" stroke-width="0.15">7</text>
<line x1="672.78" y1="471.2" x2="672.78" y2="476.2" stroke="#555" stroke-width="1.2"/>
<text x="669.57" y="490.5" font-size="13.4" font-weight="bold" textLength="6.41" lengthAdjust="spacingAndGlyphs" fill="#000" stroke="#000" stroke-width="0.15">8</text>
<line x1="720" y1="471.2" x2="720" y2="476.2" stroke="#555" stroke-width="1.2"/>
<text x="716.81" y="490.5" font-size="13.4" font-weight="bold" textLength="6.41" lengthAdjust="spacingAndGlyphs" fill="#000" stroke="#000" stroke-width="0.15">9</text>
<text x="543.24" y="512.5" font-size="14.3" font-weight="bold" textLength="120.03" lengthAdjust="spacingAndGlyphs" fill="#000" stroke="#000" stroke-width="0.15">Nodule diameter (mm)</text>
<g transform="translate(432.3,449.74) rotate(-90)"><text x="0" y="0" font-size="14.3" font-weight="bold" textLength="123.24" lengthAdjust="spacingAndGlyphs" fill="#000" style="white-space:pre" stroke="#000" stroke-width="0.15">Relative difference (%)</text></g>
<rect x="96.2" y="652.63" width="9.25" height="84.27" fill="#d4d4d4"/>
<rect x="105.45" y="656.76" width="9.25" height="80.14" fill="#fddfe0"/>
<rect x="114.7" y="652" width="9.25" height="84.9" fill="#ff8080"/>
<rect x="123.95" y="658.03" width="9.25" height="78.87" fill="#a80000"/>
<rect x="147.1" y="705.16" width="9.25" height="31.74" fill="#d4d4d4"/>
<rect x="156.35" y="709.13" width="9.25" height="27.77" fill="#fddfe0"/>
<rect x="165.6" y="707.38" width="9.25" height="29.52" fill="#ff8080"/>
<rect x="174.85" y="695.16" width="9.25" height="41.74" fill="#a80000"/>
<rect x="198" y="628.35" width="9.25" height="108.55" fill="#d4d4d4"/>
<rect x="207.25" y="640.41" width="9.25" height="96.49" fill="#fddfe0"/>
<rect x="216.5" y="670.88" width="9.25" height="66.02" fill="#ff8080"/>
<rect x="225.75" y="643.58" width="9.25" height="93.32" fill="#a80000"/>
<rect x="248.9" y="647.87" width="9.25" height="89.03" fill="#d4d4d4"/>
<rect x="258.15" y="639.78" width="9.25" height="97.12" fill="#fddfe0"/>
<rect x="267.4" y="674.21" width="9.25" height="62.69" fill="#ff8080"/>
<rect x="276.65" y="668.34" width="9.25" height="68.56" fill="#a80000"/>
<rect x="299.8" y="709.92" width="9.25" height="26.98" fill="#d4d4d4"/>
<rect x="309.05" y="710.08" width="9.25" height="26.82" fill="#fddfe0"/>
<rect x="318.3" y="714.84" width="9.25" height="22.06" fill="#ff8080"/>
<rect x="327.55" y="712.3" width="9.25" height="24.6" fill="#a80000"/>
<rect x="350.7" y="718.81" width="9.25" height="18.09" fill="#d4d4d4"/>
<rect x="359.95" y="718.01" width="9.25" height="18.89" fill="#fddfe0"/>
<rect x="369.2" y="720.24" width="9.25" height="16.66" fill="#ff8080"/>
<rect x="378.45" y="721.51" width="9.25" height="15.39" fill="#a80000"/>
<line x1="100.83" y1="634" x2="100.83" y2="668.5" stroke="#8a8a8a" stroke-width="1.15"/>
<line x1="98.42" y1="634" x2="103.23" y2="634" stroke="#8a8a8a" stroke-width="1.25"/>
<line x1="98.42" y1="668.5" x2="103.23" y2="668.5" stroke="#8a8a8a" stroke-width="1.25"/>
<line x1="110.08" y1="639" x2="110.08" y2="671.8" stroke="#8a8a8a" stroke-width="1.15"/>
<line x1="107.67" y1="639" x2="112.48" y2="639" stroke="#8a8a8a" stroke-width="1.25"/>
<line x1="107.67" y1="671.8" x2="112.48" y2="671.8" stroke="#8a8a8a" stroke-width="1.25"/>
<line x1="119.33" y1="634" x2="119.33" y2="668" stroke="#8a8a8a" stroke-width="1.15"/>
<line x1="116.92" y1="634" x2="121.73" y2="634" stroke="#8a8a8a" stroke-width="1.25"/>
<line x1="116.92" y1="668" x2="121.73" y2="668" stroke="#8a8a8a" stroke-width="1.25"/>
<line x1="128.57" y1="640.1" x2="128.57" y2="673" stroke="#8a8a8a" stroke-width="1.15"/>
<line x1="126.17" y1="640.1" x2="130.97" y2="640.1" stroke="#8a8a8a" stroke-width="1.25"/>
<line x1="126.17" y1="673" x2="130.97" y2="673" stroke="#8a8a8a" stroke-width="1.25"/>
<line x1="151.72" y1="697.2" x2="151.72" y2="712.6" stroke="#8a8a8a" stroke-width="1.15"/>
<line x1="149.32" y1="697.2" x2="154.12" y2="697.2" stroke="#8a8a8a" stroke-width="1.25"/>
<line x1="149.32" y1="712.6" x2="154.12" y2="712.6" stroke="#8a8a8a" stroke-width="1.25"/>
<line x1="160.97" y1="702" x2="160.97" y2="716.1" stroke="#8a8a8a" stroke-width="1.15"/>
<line x1="158.57" y1="702" x2="163.38" y2="702" stroke="#8a8a8a" stroke-width="1.25"/>
<line x1="158.57" y1="716.1" x2="163.38" y2="716.1" stroke="#8a8a8a" stroke-width="1.25"/>
<line x1="170.22" y1="699.9" x2="170.22" y2="714.5" stroke="#8a8a8a" stroke-width="1.15"/>
<line x1="167.82" y1="699.9" x2="172.62" y2="699.9" stroke="#8a8a8a" stroke-width="1.25"/>
<line x1="167.82" y1="714.5" x2="172.62" y2="714.5" stroke="#8a8a8a" stroke-width="1.25"/>
<line x1="179.47" y1="685.4" x2="179.47" y2="704" stroke="#8a8a8a" stroke-width="1.15"/>
<line x1="177.07" y1="685.4" x2="181.88" y2="685.4" stroke="#8a8a8a" stroke-width="1.25"/>
<line x1="177.07" y1="704" x2="181.88" y2="704" stroke="#8a8a8a" stroke-width="1.25"/>
<line x1="202.62" y1="605.1" x2="202.62" y2="648" stroke="#8a8a8a" stroke-width="1.15"/>
<line x1="200.22" y1="605.1" x2="205.03" y2="605.1" stroke="#8a8a8a" stroke-width="1.25"/>
<line x1="200.22" y1="648" x2="205.03" y2="648" stroke="#8a8a8a" stroke-width="1.25"/>
<line x1="211.88" y1="620.2" x2="211.88" y2="657.7" stroke="#8a8a8a" stroke-width="1.15"/>
<line x1="209.47" y1="620.2" x2="214.28" y2="620.2" stroke="#8a8a8a" stroke-width="1.25"/>
<line x1="209.47" y1="657.7" x2="214.28" y2="657.7" stroke="#8a8a8a" stroke-width="1.25"/>
<line x1="221.12" y1="656.2" x2="221.12" y2="683.5" stroke="#8a8a8a" stroke-width="1.15"/>
<line x1="218.72" y1="656.2" x2="223.53" y2="656.2" stroke="#8a8a8a" stroke-width="1.25"/>
<line x1="218.72" y1="683.5" x2="223.53" y2="683.5" stroke="#8a8a8a" stroke-width="1.25"/>
<line x1="230.38" y1="624" x2="230.38" y2="660.5" stroke="#8a8a8a" stroke-width="1.15"/>
<line x1="227.97" y1="624" x2="232.78" y2="624" stroke="#8a8a8a" stroke-width="1.25"/>
<line x1="227.97" y1="660.5" x2="232.78" y2="660.5" stroke="#8a8a8a" stroke-width="1.25"/>
<line x1="253.52" y1="630" x2="253.52" y2="663.3" stroke="#8a8a8a" stroke-width="1.15"/>
<line x1="251.12" y1="630" x2="255.92" y2="630" stroke="#8a8a8a" stroke-width="1.25"/>
<line x1="251.12" y1="663.3" x2="255.92" y2="663.3" stroke="#8a8a8a" stroke-width="1.25"/>
<line x1="262.77" y1="620.2" x2="262.77" y2="656.8" stroke="#8a8a8a" stroke-width="1.15"/>
<line x1="260.38" y1="620.2" x2="265.17" y2="620.2" stroke="#8a8a8a" stroke-width="1.25"/>
<line x1="260.38" y1="656.8" x2="265.17" y2="656.8" stroke="#8a8a8a" stroke-width="1.25"/>
<line x1="272.02" y1="660.5" x2="272.02" y2="686.2" stroke="#8a8a8a" stroke-width="1.15"/>
<line x1="269.62" y1="660.5" x2="274.42" y2="660.5" stroke="#8a8a8a" stroke-width="1.25"/>
<line x1="269.62" y1="686.2" x2="274.42" y2="686.2" stroke="#8a8a8a" stroke-width="1.25"/>
<line x1="281.27" y1="654" x2="281.27" y2="681.1" stroke="#8a8a8a" stroke-width="1.15"/>
<line x1="278.88" y1="654" x2="283.67" y2="654" stroke="#8a8a8a" stroke-width="1.25"/>
<line x1="278.88" y1="681.1" x2="283.67" y2="681.1" stroke="#8a8a8a" stroke-width="1.25"/>
<line x1="304.43" y1="702.8" x2="304.43" y2="716.9" stroke="#8a8a8a" stroke-width="1.15"/>
<line x1="302.03" y1="702.8" x2="306.82" y2="702.8" stroke="#8a8a8a" stroke-width="1.25"/>
<line x1="302.03" y1="716.9" x2="306.82" y2="716.9" stroke="#8a8a8a" stroke-width="1.25"/>
<line x1="313.68" y1="702.8" x2="313.68" y2="716.9" stroke="#8a8a8a" stroke-width="1.15"/>
<line x1="311.28" y1="702.8" x2="316.07" y2="702.8" stroke="#8a8a8a" stroke-width="1.25"/>
<line x1="311.28" y1="716.9" x2="316.07" y2="716.9" stroke="#8a8a8a" stroke-width="1.25"/>
<line x1="322.93" y1="708.5" x2="322.93" y2="720.9" stroke="#8a8a8a" stroke-width="1.15"/>
<line x1="320.53" y1="708.5" x2="325.32" y2="708.5" stroke="#8a8a8a" stroke-width="1.25"/>
<line x1="320.53" y1="720.9" x2="325.32" y2="720.9" stroke="#8a8a8a" stroke-width="1.25"/>
<line x1="332.18" y1="705.5" x2="332.18" y2="718.9" stroke="#8a8a8a" stroke-width="1.15"/>
<line x1="329.78" y1="705.5" x2="334.57" y2="705.5" stroke="#8a8a8a" stroke-width="1.25"/>
<line x1="329.78" y1="718.9" x2="334.57" y2="718.9" stroke="#8a8a8a" stroke-width="1.25"/>
<line x1="355.32" y1="713.1" x2="355.32" y2="724.3" stroke="#8a8a8a" stroke-width="1.15"/>
<line x1="352.93" y1="713.1" x2="357.72" y2="713.1" stroke="#8a8a8a" stroke-width="1.25"/>
<line x1="352.93" y1="724.3" x2="357.72" y2="724.3" stroke="#8a8a8a" stroke-width="1.25"/>
<line x1="364.57" y1="712.2" x2="364.57" y2="725" stroke="#8a8a8a" stroke-width="1.15"/>
<line x1="362.18" y1="712.2" x2="366.97" y2="712.2" stroke="#8a8a8a" stroke-width="1.25"/>
<line x1="362.18" y1="725" x2="366.97" y2="725" stroke="#8a8a8a" stroke-width="1.25"/>
<line x1="373.82" y1="715" x2="373.82" y2="726.1" stroke="#8a8a8a" stroke-width="1.15"/>
<line x1="371.43" y1="715" x2="376.22" y2="715" stroke="#8a8a8a" stroke-width="1.25"/>
<line x1="371.43" y1="726.1" x2="376.22" y2="726.1" stroke="#8a8a8a" stroke-width="1.25"/>
<line x1="383.07" y1="716.6" x2="383.07" y2="727" stroke="#8a8a8a" stroke-width="1.15"/>
<line x1="380.68" y1="716.6" x2="385.47" y2="716.6" stroke="#8a8a8a" stroke-width="1.25"/>
<line x1="380.68" y1="727" x2="385.47" y2="727" stroke="#8a8a8a" stroke-width="1.25"/>
<clipPath id="lc3"><rect x="0" y="0" width="400" height="736.4"/></clipPath><g clip-path="url(#lc3)">
<g transform="translate(103.38,733.4) rotate(-90)"><text x="0" y="0" font-size="7.5" font-weight="bold" textLength="12.92" lengthAdjust="spacingAndGlyphs" fill="#000" stroke="#000" stroke-width="0.22">5.31</text></g>
<g transform="translate(112.62,733.4) rotate(-90)"><text x="0" y="0" font-size="7.5" font-weight="bold" textLength="12.92" lengthAdjust="spacingAndGlyphs" fill="#000" stroke="#000" stroke-width="0.22">5.05</text></g>
<g transform="translate(121.88,733.4) rotate(-90)"><text x="0" y="0" font-size="7.5" font-weight="bold" textLength="12.92" lengthAdjust="spacingAndGlyphs" fill="#000" stroke="#000" stroke-width="0.22">5.35</text></g>
<g transform="translate(131.12,733.3) rotate(-90)"><text x="0" y="0" font-size="7.5" font-weight="bold" textLength="12.92" lengthAdjust="spacingAndGlyphs" fill="#000" stroke="#000" stroke-width="0.22">4.97</text></g>
<g transform="translate(154.28,733.43) rotate(-90)"><text x="0" y="0" font-size="7.5" font-weight="bold" textLength="12.92" lengthAdjust="spacingAndGlyphs" fill="#000" stroke="#000" stroke-width="0.22">2.00</text></g>
<g transform="translate(163.53,733.62) rotate(-90)"><text x="0" y="0" font-size="7.5" font-weight="bold" textLength="12.92" lengthAdjust="spacingAndGlyphs" fill="#000" stroke="#000" stroke-width="0.22">1.75</text></g>
<g transform="translate(172.78,733.62) rotate(-90)"><text x="0" y="0" font-size="7.5" font-weight="bold" textLength="12.92" lengthAdjust="spacingAndGlyphs" fill="#000" stroke="#000" stroke-width="0.22">1.86</text></g>
<g transform="translate(182.03,733.43) rotate(-90)"><text x="0" y="0" font-size="7.5" font-weight="bold" textLength="12.92" lengthAdjust="spacingAndGlyphs" fill="#000" stroke="#000" stroke-width="0.22">2.63</text></g>
<g transform="translate(205.18,733.44) rotate(-90)"><text x="0" y="0" font-size="7.5" font-weight="bold" textLength="12.92" lengthAdjust="spacingAndGlyphs" fill="#000" stroke="#000" stroke-width="0.22">6.84</text></g>
<g transform="translate(214.43,733.44) rotate(-90)"><text x="0" y="0" font-size="7.5" font-weight="bold" textLength="12.92" lengthAdjust="spacingAndGlyphs" fill="#000" stroke="#000" stroke-width="0.22">6.08</text></g>
<g transform="translate(223.68,733.3) rotate(-90)"><text x="0" y="0" font-size="7.5" font-weight="bold" textLength="12.92" lengthAdjust="spacingAndGlyphs" fill="#000" stroke="#000" stroke-width="0.22">4.16</text></g>
<g transform="translate(232.93,733.4) rotate(-90)"><text x="0" y="0" font-size="7.5" font-weight="bold" textLength="12.92" lengthAdjust="spacingAndGlyphs" fill="#000" stroke="#000" stroke-width="0.22">5.88</text></g>
<g transform="translate(256.07,733.4) rotate(-90)"><text x="0" y="0" font-size="7.5" font-weight="bold" textLength="12.92" lengthAdjust="spacingAndGlyphs" fill="#000" stroke="#000" stroke-width="0.22">5.61</text></g>
<g transform="translate(265.32,733.44) rotate(-90)"><text x="0" y="0" font-size="7.5" font-weight="bold" textLength="12.92" lengthAdjust="spacingAndGlyphs" fill="#000" stroke="#000" stroke-width="0.22">6.12</text></g>
<g transform="translate(274.57,733.35) rotate(-90)"><text x="0" y="0" font-size="7.5" font-weight="bold" textLength="12.92" lengthAdjust="spacingAndGlyphs" fill="#000" stroke="#000" stroke-width="0.22">3.95</text></g>
<g transform="translate(283.82,733.3) rotate(-90)"><text x="0" y="0" font-size="7.5" font-weight="bold" textLength="12.92" lengthAdjust="spacingAndGlyphs" fill="#000" stroke="#000" stroke-width="0.22">4.32</text></g>
<g transform="translate(306.98,733.62) rotate(-90)"><text x="0" y="0" font-size="7.5" font-weight="bold" textLength="12.92" lengthAdjust="spacingAndGlyphs" fill="#000" stroke="#000" stroke-width="0.22">1.70</text></g>
<g transform="translate(316.23,733.62) rotate(-90)"><text x="0" y="0" font-size="7.5" font-weight="bold" textLength="12.92" lengthAdjust="spacingAndGlyphs" fill="#000" stroke="#000" stroke-width="0.22">1.69</text></g>
<g transform="translate(325.48,733.62) rotate(-90)"><text x="0" y="0" font-size="7.5" font-weight="bold" textLength="12.92" lengthAdjust="spacingAndGlyphs" fill="#000" stroke="#000" stroke-width="0.22">1.39</text></g>
<g transform="translate(334.73,733.62) rotate(-90)"><text x="0" y="0" font-size="7.5" font-weight="bold" textLength="12.92" lengthAdjust="spacingAndGlyphs" fill="#000" stroke="#000" stroke-width="0.22">1.55</text></g>
<g transform="translate(357.39,736.74) rotate(-90)"><text x="0" y="0" font-size="6" font-weight="bold" textLength="10.57" lengthAdjust="spacingAndGlyphs" fill="#000" stroke="#000" stroke-width="0.05">1.14</text></g>
<g transform="translate(366.64,736.75) rotate(-90)"><text x="0" y="0" font-size="6" font-weight="bold" textLength="10.75" lengthAdjust="spacingAndGlyphs" fill="#000" stroke="#000" stroke-width="0.05">1.19</text></g>
<g transform="translate(375.89,736.75) rotate(-90)"><text x="0" y="0" font-size="6" font-weight="bold" textLength="10.7" lengthAdjust="spacingAndGlyphs" fill="#000" stroke="#000" stroke-width="0.05">1.05</text></g>
<g transform="translate(385.14,736.52) rotate(-90)"><text x="0" y="0" font-size="6" font-weight="bold" textLength="10.76" lengthAdjust="spacingAndGlyphs" fill="#000" stroke="#000" stroke-width="0.05">0.97</text></g>
</g>
<line x1="91.5" y1="546.46" x2="91.5" y2="736.9" stroke="#727272" stroke-width="1.25"/>
<line x1="83.8" y1="736.9" x2="393.2" y2="736.9" stroke="#a0a0a0" stroke-width="1.8"/>
<line x1="83.8" y1="705.16" x2="91.5" y2="705.16" stroke="#777" stroke-width="1.1"/>
<line x1="83.8" y1="673.42" x2="91.5" y2="673.42" stroke="#777" stroke-width="1.1"/>
<line x1="83.8" y1="641.68" x2="91.5" y2="641.68" stroke="#777" stroke-width="1.1"/>
<line x1="83.8" y1="609.94" x2="91.5" y2="609.94" stroke="#777" stroke-width="1.1"/>
<line x1="83.8" y1="578.2" x2="91.5" y2="578.2" stroke="#777" stroke-width="1.1"/>
<line x1="83.8" y1="546.46" x2="91.5" y2="546.46" stroke="#777" stroke-width="1.1"/>
<text x="75.79" y="741.4" font-size="12.9" font-weight="bold" textLength="6.17" lengthAdjust="spacingAndGlyphs" fill="#000" stroke="#000" stroke-width="0.15">0</text>
<text x="75.77" y="709.66" font-size="12.9" font-weight="bold" textLength="6.17" lengthAdjust="spacingAndGlyphs" fill="#000" stroke="#000" stroke-width="0.15">2</text>
<text x="75.39" y="677.92" font-size="12.9" font-weight="bold" textLength="6.17" lengthAdjust="spacingAndGlyphs" fill="#000" stroke="#000" stroke-width="0.15">4</text>
<text x="75.73" y="646.18" font-size="12.9" font-weight="bold" textLength="6.17" lengthAdjust="spacingAndGlyphs" fill="#000" stroke="#000" stroke-width="0.15">6</text>
<text x="75.67" y="614.44" font-size="12.9" font-weight="bold" textLength="6.17" lengthAdjust="spacingAndGlyphs" fill="#000" stroke="#000" stroke-width="0.15">8</text>
<text x="69.62" y="582.7" font-size="12.9" font-weight="bold" textLength="12.34" lengthAdjust="spacingAndGlyphs" fill="#000" stroke="#000" stroke-width="0.15">10</text>
<text x="69.6" y="550.96" font-size="12.9" font-weight="bold" textLength="12.34" lengthAdjust="spacingAndGlyphs" fill="#000" stroke="#000" stroke-width="0.15">12</text>
<line x1="114.7" y1="736.9" x2="114.7" y2="741.9" stroke="#777" stroke-width="1.1"/>
<text x="111.44" y="756.2" font-size="13.4" font-weight="bold" textLength="6.41" lengthAdjust="spacingAndGlyphs" fill="#000" stroke="#000" stroke-width="0.15">4</text>
<line x1="165.6" y1="736.9" x2="165.6" y2="741.9" stroke="#777" stroke-width="1.1"/>
<text x="162.38" y="756.2" font-size="13.4" font-weight="bold" textLength="6.41" lengthAdjust="spacingAndGlyphs" fill="#000" stroke="#000" stroke-width="0.15">5</text>
<line x1="216.5" y1="736.9" x2="216.5" y2="741.9" stroke="#777" stroke-width="1.1"/>
<text x="213.29" y="756.2" font-size="13.4" font-weight="bold" textLength="6.41" lengthAdjust="spacingAndGlyphs" fill="#000" stroke="#000" stroke-width="0.15">6</text>
<line x1="267.4" y1="736.9" x2="267.4" y2="741.9" stroke="#777" stroke-width="1.1"/>
<text x="264.2" y="756.2" font-size="13.4" font-weight="bold" textLength="6.41" lengthAdjust="spacingAndGlyphs" fill="#000" stroke="#000" stroke-width="0.15">7</text>
<line x1="318.3" y1="736.9" x2="318.3" y2="741.9" stroke="#777" stroke-width="1.1"/>
<text x="315.09" y="756.2" font-size="13.4" font-weight="bold" textLength="6.41" lengthAdjust="spacingAndGlyphs" fill="#000" stroke="#000" stroke-width="0.15">8</text>
<line x1="369.2" y1="736.9" x2="369.2" y2="741.9" stroke="#777" stroke-width="1.1"/>
<text x="366.01" y="756.2" font-size="13.4" font-weight="bold" textLength="6.41" lengthAdjust="spacingAndGlyphs" fill="#000" stroke="#000" stroke-width="0.15">9</text>
<text x="181.94" y="778.1" font-size="14.3" font-weight="bold" textLength="120.13" lengthAdjust="spacingAndGlyphs" fill="#000" stroke="#000" stroke-width="0.15">Nodule diameter (mm)</text>
<g transform="translate(32.7,680.43) rotate(-90)"><text x="0" y="0" font-size="14.3" font-weight="bold" textLength="90" lengthAdjust="spacingAndGlyphs" fill="#000" stroke="#000" stroke-width="0.15">Smooth nodules</text></g>
<g transform="translate(59.9,668.08) rotate(-90)"><text x="0" y="0" font-size="12.4" font-weight="bold" textLength="22.91" lengthAdjust="spacingAndGlyphs" fill="#000" stroke="#000" stroke-width="0.15">APE</text></g>
<g transform="translate(64,645.23) rotate(-90)"><text x="0" y="0" font-size="8.5" font-weight="bold" textLength="31.24" lengthAdjust="spacingAndGlyphs" fill="#000" stroke="#000" stroke-width="0.15">volume</text></g>
<rect x="468.85" y="613.07" width="10.3" height="62.15" fill="#fdd9da"/>
<rect x="479.15" y="613.07" width="10.3" height="10.44" fill="#ff7f7f"/>
<rect x="489.45" y="613.07" width="10.3" height="84.53" fill="#b23232"/>
<rect x="516.47" y="613.07" width="10.3" height="93.04" fill="#fdd9da"/>
<rect x="526.77" y="613.07" width="10.3" height="37.51" fill="#ff7f7f"/>
<rect x="537.07" y="613.07" width="10.3" height="37.67" fill="#b23232"/>
<rect x="564.09" y="613.07" width="10.3" height="83.37" fill="#fdd9da"/>
<rect x="574.39" y="613.07" width="10.3" height="111.73" fill="#ff7f7f"/>
<rect x="584.69" y="613.07" width="10.3" height="102.99" fill="#b23232"/>
<rect x="611.71" y="613.07" width="10.3" height="34.01" fill="#fdd9da"/>
<rect x="622.01" y="613.07" width="10.3" height="76.67" fill="#ff7f7f"/>
<rect x="632.31" y="613.07" width="10.3" height="111.15" fill="#b23232"/>
<rect x="659.33" y="613.07" width="10.3" height="51.49" fill="#fdd9da"/>
<rect x="669.63" y="613.07" width="10.3" height="40.55" fill="#ff7f7f"/>
<rect x="679.93" y="613.07" width="10.3" height="82.08" fill="#b23232"/>
<rect x="706.95" y="613.07" width="10.3" height="48.9" fill="#fdd9da"/>
<rect x="717.25" y="613.07" width="10.3" height="24.16" fill="#ff7f7f"/>
<rect x="727.55" y="613.07" width="10.3" height="95.18" fill="#b23232"/>
<g transform="translate(476.9,673.48) rotate(-90)"><text x="0" y="0" font-size="8.3" font-weight="bold" textLength="19.53" lengthAdjust="spacingAndGlyphs" fill="#000" stroke="#000" stroke-width="0.22">-29.99</text></g>
<g transform="translate(487.2,641.18) rotate(-90)"><text x="0" y="0" font-size="8.3" font-weight="bold" textLength="15.7" lengthAdjust="spacingAndGlyphs" fill="#000" stroke="#000" stroke-width="0.22">-5.04</text></g>
<g transform="translate(497.5,695.86) rotate(-90)"><text x="0" y="0" font-size="8.3" font-weight="bold" textLength="19.53" lengthAdjust="spacingAndGlyphs" fill="#000" stroke="#000" stroke-width="0.22">-40.79</text></g>
<g transform="translate(524.52,704.38) rotate(-90)"><text x="0" y="0" font-size="8.3" font-weight="bold" textLength="19.53" lengthAdjust="spacingAndGlyphs" fill="#000" stroke="#000" stroke-width="0.22">-44.90</text></g>
<g transform="translate(534.82,648.84) rotate(-90)"><text x="0" y="0" font-size="8.3" font-weight="bold" textLength="19.53" lengthAdjust="spacingAndGlyphs" fill="#000" stroke="#000" stroke-width="0.22">-18.10</text></g>
<g transform="translate(545.12,649.01) rotate(-90)"><text x="0" y="0" font-size="8.3" font-weight="bold" textLength="19.53" lengthAdjust="spacingAndGlyphs" fill="#000" stroke="#000" stroke-width="0.22">-18.18</text></g>
<g transform="translate(572.14,694.7) rotate(-90)"><text x="0" y="0" font-size="8.3" font-weight="bold" textLength="19.53" lengthAdjust="spacingAndGlyphs" fill="#000" stroke="#000" stroke-width="0.22">-40.23</text></g>
<g transform="translate(582.44,723.07) rotate(-90)"><text x="0" y="0" font-size="8.3" font-weight="bold" textLength="19.53" lengthAdjust="spacingAndGlyphs" fill="#000" stroke="#000" stroke-width="0.22">-53.92</text></g>
<g transform="translate(592.74,714.33) rotate(-90)"><text x="0" y="0" font-size="8.3" font-weight="bold" textLength="19.53" lengthAdjust="spacingAndGlyphs" fill="#000" stroke="#000" stroke-width="0.22">-49.70</text></g>
<g transform="translate(619.76,645.34) rotate(-90)"><text x="0" y="0" font-size="8.3" font-weight="bold" textLength="19.53" lengthAdjust="spacingAndGlyphs" fill="#000" stroke="#000" stroke-width="0.22">-16.41</text></g>
<g transform="translate(630.06,688.01) rotate(-90)"><text x="0" y="0" font-size="8.3" font-weight="bold" textLength="19.53" lengthAdjust="spacingAndGlyphs" fill="#000" stroke="#000" stroke-width="0.22">-37.00</text></g>
<g transform="translate(640.36,722.49) rotate(-90)"><text x="0" y="0" font-size="8.3" font-weight="bold" textLength="19.53" lengthAdjust="spacingAndGlyphs" fill="#000" stroke="#000" stroke-width="0.22">-53.64</text></g>
<g transform="translate(667.38,662.83) rotate(-90)"><text x="0" y="0" font-size="8.3" font-weight="bold" textLength="19.53" lengthAdjust="spacingAndGlyphs" fill="#000" stroke="#000" stroke-width="0.22">-24.85</text></g>
<g transform="translate(677.68,651.89) rotate(-90)"><text x="0" y="0" font-size="8.3" font-weight="bold" textLength="19.53" lengthAdjust="spacingAndGlyphs" fill="#000" stroke="#000" stroke-width="0.22">-19.57</text></g>
<g transform="translate(687.98,693.42) rotate(-90)"><text x="0" y="0" font-size="8.3" font-weight="bold" textLength="19.53" lengthAdjust="spacingAndGlyphs" fill="#000" stroke="#000" stroke-width="0.22">-39.61</text></g>
<g transform="translate(715,660.24) rotate(-90)"><text x="0" y="0" font-size="8.3" font-weight="bold" textLength="19.53" lengthAdjust="spacingAndGlyphs" fill="#000" stroke="#000" stroke-width="0.22">-23.60</text></g>
<g transform="translate(725.3,635.5) rotate(-90)"><text x="0" y="0" font-size="8.3" font-weight="bold" textLength="19.53" lengthAdjust="spacingAndGlyphs" fill="#000" stroke="#000" stroke-width="0.22">-11.66</text></g>
<g transform="translate(735.6,706.51) rotate(-90)"><text x="0" y="0" font-size="8.3" font-weight="bold" textLength="19.53" lengthAdjust="spacingAndGlyphs" fill="#000" stroke="#000" stroke-width="0.22">-45.93</text></g>
<line x1="463.5" y1="550.9" x2="463.5" y2="737.4" stroke="#555" stroke-width="1.2"/>
<line x1="456.2" y1="737.4" x2="743.2" y2="737.4" stroke="#555" stroke-width="1.2"/>
<line x1="463.5" y1="613.07" x2="743.2" y2="613.07" stroke="#555" stroke-width="1.2"/>
<line x1="456.2" y1="550.9" x2="463.5" y2="550.9" stroke="#555" stroke-width="1.2"/>
<text x="441.74" y="555.6" font-size="13.4" font-weight="bold" textLength="12.52" lengthAdjust="spacingAndGlyphs" fill="#000" stroke="#000" stroke-width="0.15">30</text>
<line x1="459.4" y1="566.44" x2="463.5" y2="566.44" stroke="#555" stroke-width="1.2"/>
<line x1="456.2" y1="581.98" x2="463.5" y2="581.98" stroke="#555" stroke-width="1.2"/>
<text x="441.59" y="586.68" font-size="13.4" font-weight="bold" textLength="12.52" lengthAdjust="spacingAndGlyphs" fill="#000" stroke="#000" stroke-width="0.15">15</text>
<line x1="459.4" y1="597.52" x2="463.5" y2="597.52" stroke="#555" stroke-width="1.2"/>
<line x1="456.2" y1="613.07" x2="463.5" y2="613.07" stroke="#555" stroke-width="1.2"/>
<text x="448" y="617.77" font-size="13.4" font-weight="bold" textLength="6.26" lengthAdjust="spacingAndGlyphs" fill="#000" stroke="#000" stroke-width="0.15">0</text>
<line x1="459.4" y1="628.61" x2="463.5" y2="628.61" stroke="#555" stroke-width="1.2"/>
<line x1="456.2" y1="644.15" x2="463.5" y2="644.15" stroke="#555" stroke-width="1.2"/>
<text x="437.84" y="648.85" font-size="13.4" font-weight="bold" textLength="16.27" lengthAdjust="spacingAndGlyphs" fill="#000" stroke="#000" stroke-width="0.15">-15</text>
<line x1="459.4" y1="659.69" x2="463.5" y2="659.69" stroke="#555" stroke-width="1.2"/>
<line x1="456.2" y1="675.23" x2="463.5" y2="675.23" stroke="#555" stroke-width="1.2"/>
<text x="437.99" y="679.93" font-size="13.4" font-weight="bold" textLength="16.27" lengthAdjust="spacingAndGlyphs" fill="#000" stroke="#000" stroke-width="0.15">-30</text>
<line x1="459.4" y1="690.77" x2="463.5" y2="690.77" stroke="#555" stroke-width="1.2"/>
<line x1="456.2" y1="706.32" x2="463.5" y2="706.32" stroke="#555" stroke-width="1.2"/>
<text x="437.84" y="711.02" font-size="13.4" font-weight="bold" textLength="16.27" lengthAdjust="spacingAndGlyphs" fill="#000" stroke="#000" stroke-width="0.15">-45</text>
<line x1="459.4" y1="721.86" x2="463.5" y2="721.86" stroke="#555" stroke-width="1.2"/>
<line x1="456.2" y1="737.4" x2="463.5" y2="737.4" stroke="#555" stroke-width="1.2"/>
<text x="437.99" y="742.1" font-size="13.4" font-weight="bold" textLength="16.27" lengthAdjust="spacingAndGlyphs" fill="#000" stroke="#000" stroke-width="0.15">-60</text>
<line x1="484.3" y1="737.4" x2="484.3" y2="742.4" stroke="#555" stroke-width="1.2"/>
<text x="481.04" y="756.7" font-size="13.4" font-weight="bold" textLength="6.41" lengthAdjust="spacingAndGlyphs" fill="#000" stroke="#000" stroke-width="0.15">4</text>
<line x1="531.92" y1="737.4" x2="531.92" y2="742.4" stroke="#555" stroke-width="1.2"/>
<text x="528.7" y="756.7" font-size="13.4" font-weight="bold" textLength="6.41" lengthAdjust="spacingAndGlyphs" fill="#000" stroke="#000" stroke-width="0.15">5</text>
<line x1="579.54" y1="737.4" x2="579.54" y2="742.4" stroke="#555" stroke-width="1.2"/>
<text x="576.33" y="756.7" font-size="13.4" font-weight="bold" textLength="6.41" lengthAdjust="spacingAndGlyphs" fill="#000" stroke="#000" stroke-width="0.15">6</text>
<line x1="627.16" y1="737.4" x2="627.16" y2="742.4" stroke="#555" stroke-width="1.2"/>
<text x="623.96" y="756.7" font-size="13.4" font-weight="bold" textLength="6.41" lengthAdjust="spacingAndGlyphs" fill="#000" stroke="#000" stroke-width="0.15">7</text>
<line x1="674.78" y1="737.4" x2="674.78" y2="742.4" stroke="#555" stroke-width="1.2"/>
<text x="671.57" y="756.7" font-size="13.4" font-weight="bold" textLength="6.41" lengthAdjust="spacingAndGlyphs" fill="#000" stroke="#000" stroke-width="0.15">8</text>
<line x1="722.4" y1="737.4" x2="722.4" y2="742.4" stroke="#555" stroke-width="1.2"/>
<text x="719.21" y="756.7" font-size="13.4" font-weight="bold" textLength="6.41" lengthAdjust="spacingAndGlyphs" fill="#000" stroke="#000" stroke-width="0.15">9</text>
<text x="543.24" y="778.7" font-size="14.3" font-weight="bold" textLength="120.03" lengthAdjust="spacingAndGlyphs" fill="#000" stroke="#000" stroke-width="0.15">Nodule diameter (mm)</text>
<g transform="translate(433.2,715.55) rotate(-90)"><text x="0" y="0" font-size="14.3" font-weight="bold" textLength="128.36" lengthAdjust="spacingAndGlyphs" fill="#000" style="white-space:pre" stroke="#000" stroke-width="0.15">Relative difference  (%)</text></g>
<line x1="1" y1="271.3" x2="778" y2="271.3" stroke="#d8d8d8" stroke-width="1.3"/>
<line x1="1" y1="525.2" x2="778" y2="525.2" stroke="#d8d8d8" stroke-width="1.3"/>
<rect x="48.9" y="775.9" width="20.4" height="5.5" fill="#d4d4d4"/>
<text x="81.28" y="782.8" font-size="11" font-weight="normal" textLength="29.36" lengthAdjust="spacingAndGlyphs" fill="#333">ASIR-V</text>
<rect x="48.9" y="789" width="20.4" height="5.5" fill="#fddfe0"/>
<text x="80.49" y="795.8" font-size="11" font-weight="normal" textLength="43.99" lengthAdjust="spacingAndGlyphs" fill="#333">DLIR-Low</text>
<rect x="48.9" y="802.9" width="20.4" height="5.5" fill="#ff8080"/>
<text x="80.46" y="809.7" font-size="11" font-weight="normal" textLength="62.81" lengthAdjust="spacingAndGlyphs" fill="#333">DLIR-Medium</text>
<rect x="48.9" y="817.1" width="20.4" height="5.5" fill="#a80000"/>
<text x="80.48" y="824" font-size="11" font-weight="normal" textLength="46.88" lengthAdjust="spacingAndGlyphs" fill="#333">DLIR-High</text>
</svg>
</body></html>
